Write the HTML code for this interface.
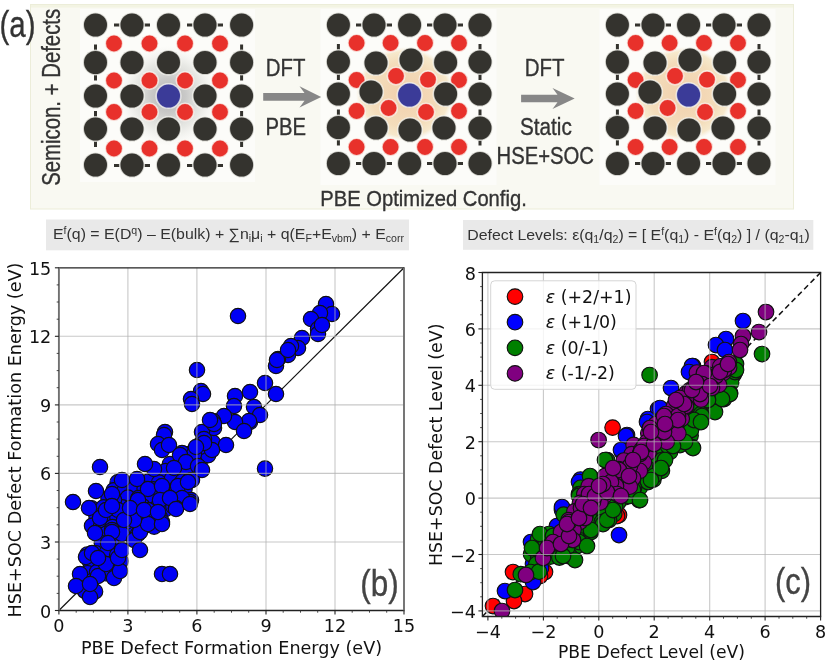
<!DOCTYPE html>
<html><head><meta charset="utf-8"><title>Defect energetics figure</title>
<style>html,body{margin:0;padding:0;background:#fff;} svg{display:block;}</style></head>
<body>
<svg width="825" height="661" viewBox="0 0 825 661">
<defs>
<radialGradient id="gglow"><stop offset="0" stop-color="#9a9a9a" stop-opacity="0.75"/><stop offset="0.35" stop-color="#a8a8a8" stop-opacity="0.6"/><stop offset="0.7" stop-color="#c4c6c0" stop-opacity="0.35"/><stop offset="1" stop-color="#e0e0dc" stop-opacity="0"/></radialGradient>
<radialGradient id="oglow"><stop offset="0" stop-color="#f1cfac" stop-opacity="1"/><stop offset="0.7" stop-color="#f3dbb8" stop-opacity="0.95"/><stop offset="0.9" stop-color="#f5e5c4" stop-opacity="0.85"/><stop offset="1" stop-color="#f6ecd6" stop-opacity="0"/></radialGradient>
</defs>
<rect width="825" height="661" fill="#fff"/>
<rect x="30.5" y="4.5" width="763" height="204.5" fill="#f9f9f2" stroke="#ecedd9" stroke-width="1"/>
<rect x="31" y="5" width="762" height="2.6" fill="#f3f4e3"/>
<rect x="80" y="9" width="175" height="173" fill="#fcfcf9"/>
<rect x="320.5" y="9" width="176" height="176" fill="#fcfcf9"/>
<rect x="599.5" y="9" width="176" height="176" fill="#fcfcf9"/>
<line x1="114" y1="25" x2="150" y2="25" stroke="#34332e" stroke-width="3"/>
<line x1="114" y1="165.5" x2="150" y2="165.5" stroke="#34332e" stroke-width="3"/>
<line x1="187" y1="25" x2="223" y2="25" stroke="#34332e" stroke-width="3"/>
<line x1="187" y1="165.5" x2="223" y2="165.5" stroke="#34332e" stroke-width="3"/>
<line x1="95.5" y1="44.5" x2="95.5" y2="80.5" stroke="#34332e" stroke-width="3"/>
<line x1="241.6" y1="44.5" x2="241.6" y2="80.5" stroke="#34332e" stroke-width="3"/>
<line x1="95.5" y1="111" x2="95.5" y2="147" stroke="#34332e" stroke-width="3"/>
<line x1="241.6" y1="111" x2="241.6" y2="147" stroke="#34332e" stroke-width="3"/>
<circle cx="168.5" cy="96" r="50" fill="url(#gglow)"/>
<circle cx="114" cy="43.5" r="8.7" fill="#e8312b" stroke="#fbfbf6" stroke-opacity="0.75" stroke-width="1.6"/>
<circle cx="149.5" cy="43.5" r="8.7" fill="#e8312b" stroke="#fbfbf6" stroke-opacity="0.75" stroke-width="1.6"/>
<circle cx="185" cy="43.5" r="8.7" fill="#e8312b" stroke="#fbfbf6" stroke-opacity="0.75" stroke-width="1.6"/>
<circle cx="220" cy="43.5" r="8.7" fill="#e8312b" stroke="#fbfbf6" stroke-opacity="0.75" stroke-width="1.6"/>
<circle cx="114" cy="80.5" r="8.7" fill="#e8312b" stroke="#fbfbf6" stroke-opacity="0.75" stroke-width="1.6"/>
<circle cx="149.5" cy="80.5" r="8.7" fill="#e8312b" stroke="#fbfbf6" stroke-opacity="0.75" stroke-width="1.6"/>
<circle cx="185" cy="80.5" r="8.7" fill="#e8312b" stroke="#fbfbf6" stroke-opacity="0.75" stroke-width="1.6"/>
<circle cx="220" cy="80.5" r="8.7" fill="#e8312b" stroke="#fbfbf6" stroke-opacity="0.75" stroke-width="1.6"/>
<circle cx="114" cy="112" r="8.7" fill="#e8312b" stroke="#fbfbf6" stroke-opacity="0.75" stroke-width="1.6"/>
<circle cx="149.5" cy="112" r="8.7" fill="#e8312b" stroke="#fbfbf6" stroke-opacity="0.75" stroke-width="1.6"/>
<circle cx="185" cy="112" r="8.7" fill="#e8312b" stroke="#fbfbf6" stroke-opacity="0.75" stroke-width="1.6"/>
<circle cx="220" cy="112" r="8.7" fill="#e8312b" stroke="#fbfbf6" stroke-opacity="0.75" stroke-width="1.6"/>
<circle cx="114" cy="148.5" r="8.7" fill="#e8312b" stroke="#fbfbf6" stroke-opacity="0.75" stroke-width="1.6"/>
<circle cx="149.5" cy="148.5" r="8.7" fill="#e8312b" stroke="#fbfbf6" stroke-opacity="0.75" stroke-width="1.6"/>
<circle cx="185" cy="148.5" r="8.7" fill="#e8312b" stroke="#fbfbf6" stroke-opacity="0.75" stroke-width="1.6"/>
<circle cx="220" cy="148.5" r="8.7" fill="#e8312b" stroke="#fbfbf6" stroke-opacity="0.75" stroke-width="1.6"/>
<circle cx="95.5" cy="25" r="12.3" fill="#34332e" stroke="#fbfbf6" stroke-opacity="0.75" stroke-width="1.6"/>
<circle cx="132" cy="25" r="12.3" fill="#34332e" stroke="#fbfbf6" stroke-opacity="0.75" stroke-width="1.6"/>
<circle cx="168.5" cy="25" r="12.3" fill="#34332e" stroke="#fbfbf6" stroke-opacity="0.75" stroke-width="1.6"/>
<circle cx="205" cy="25" r="12.3" fill="#34332e" stroke="#fbfbf6" stroke-opacity="0.75" stroke-width="1.6"/>
<circle cx="241.6" cy="25" r="12.3" fill="#34332e" stroke="#fbfbf6" stroke-opacity="0.75" stroke-width="1.6"/>
<circle cx="95.5" cy="62.5" r="12.3" fill="#34332e" stroke="#fbfbf6" stroke-opacity="0.75" stroke-width="1.6"/>
<circle cx="132" cy="62.5" r="12.3" fill="#34332e" stroke="#fbfbf6" stroke-opacity="0.75" stroke-width="1.6"/>
<circle cx="168.5" cy="62.5" r="12.3" fill="#34332e" stroke="#fbfbf6" stroke-opacity="0.75" stroke-width="1.6"/>
<circle cx="205" cy="62.5" r="12.3" fill="#34332e" stroke="#fbfbf6" stroke-opacity="0.75" stroke-width="1.6"/>
<circle cx="241.6" cy="62.5" r="12.3" fill="#34332e" stroke="#fbfbf6" stroke-opacity="0.75" stroke-width="1.6"/>
<circle cx="95.5" cy="96" r="12.3" fill="#34332e" stroke="#fbfbf6" stroke-opacity="0.75" stroke-width="1.6"/>
<circle cx="132" cy="96" r="12.3" fill="#34332e" stroke="#fbfbf6" stroke-opacity="0.75" stroke-width="1.6"/>
<circle cx="205" cy="96" r="12.3" fill="#34332e" stroke="#fbfbf6" stroke-opacity="0.75" stroke-width="1.6"/>
<circle cx="241.6" cy="96" r="12.3" fill="#34332e" stroke="#fbfbf6" stroke-opacity="0.75" stroke-width="1.6"/>
<circle cx="95.5" cy="129" r="12.3" fill="#34332e" stroke="#fbfbf6" stroke-opacity="0.75" stroke-width="1.6"/>
<circle cx="132" cy="129" r="12.3" fill="#34332e" stroke="#fbfbf6" stroke-opacity="0.75" stroke-width="1.6"/>
<circle cx="168.5" cy="129" r="12.3" fill="#34332e" stroke="#fbfbf6" stroke-opacity="0.75" stroke-width="1.6"/>
<circle cx="205" cy="129" r="12.3" fill="#34332e" stroke="#fbfbf6" stroke-opacity="0.75" stroke-width="1.6"/>
<circle cx="241.6" cy="129" r="12.3" fill="#34332e" stroke="#fbfbf6" stroke-opacity="0.75" stroke-width="1.6"/>
<circle cx="95.5" cy="165" r="12.3" fill="#34332e" stroke="#fbfbf6" stroke-opacity="0.75" stroke-width="1.6"/>
<circle cx="132" cy="165" r="12.3" fill="#34332e" stroke="#fbfbf6" stroke-opacity="0.75" stroke-width="1.6"/>
<circle cx="168.5" cy="165" r="12.3" fill="#34332e" stroke="#fbfbf6" stroke-opacity="0.75" stroke-width="1.6"/>
<circle cx="205" cy="165" r="12.3" fill="#34332e" stroke="#fbfbf6" stroke-opacity="0.75" stroke-width="1.6"/>
<circle cx="241.6" cy="165" r="12.3" fill="#34332e" stroke="#fbfbf6" stroke-opacity="0.75" stroke-width="1.6"/>
<circle cx="168.5" cy="96" r="12.3" fill="#3b3b98" stroke="#fbfbf6" stroke-opacity="0.75" stroke-width="1.6"/>
<line x1="356" y1="25" x2="392" y2="25" stroke="#34332e" stroke-width="3"/>
<line x1="356" y1="163.5" x2="392" y2="163.5" stroke="#34332e" stroke-width="3"/>
<line x1="427" y1="25" x2="463" y2="25" stroke="#34332e" stroke-width="3"/>
<line x1="427" y1="163.5" x2="463" y2="163.5" stroke="#34332e" stroke-width="3"/>
<line x1="338.4" y1="44" x2="338.4" y2="80" stroke="#34332e" stroke-width="3"/>
<line x1="480" y1="44" x2="480" y2="80" stroke="#34332e" stroke-width="3"/>
<line x1="338.4" y1="109.5" x2="338.4" y2="145.5" stroke="#34332e" stroke-width="3"/>
<line x1="480" y1="109.5" x2="480" y2="145.5" stroke="#34332e" stroke-width="3"/>
<ellipse cx="405" cy="94" rx="49" ry="47" fill="url(#oglow)"/>
<circle cx="356.6" cy="43" r="8.7" fill="#e8312b" stroke="#fbfbf6" stroke-opacity="0.75" stroke-width="1.6"/>
<circle cx="390.6" cy="43" r="8.7" fill="#e8312b" stroke="#fbfbf6" stroke-opacity="0.75" stroke-width="1.6"/>
<circle cx="425" cy="43" r="8.7" fill="#e8312b" stroke="#fbfbf6" stroke-opacity="0.75" stroke-width="1.6"/>
<circle cx="459" cy="43" r="8.7" fill="#e8312b" stroke="#fbfbf6" stroke-opacity="0.75" stroke-width="1.6"/>
<circle cx="356.6" cy="80" r="8.7" fill="#e8312b" stroke="#fbfbf6" stroke-opacity="0.75" stroke-width="1.6"/>
<circle cx="396" cy="76" r="8.7" fill="#e8312b" stroke="#fbfbf6" stroke-opacity="0.75" stroke-width="1.6"/>
<circle cx="428" cy="79.6" r="8.7" fill="#e8312b" stroke="#fbfbf6" stroke-opacity="0.75" stroke-width="1.6"/>
<circle cx="459" cy="80" r="8.7" fill="#e8312b" stroke="#fbfbf6" stroke-opacity="0.75" stroke-width="1.6"/>
<circle cx="356.6" cy="111" r="8.7" fill="#e8312b" stroke="#fbfbf6" stroke-opacity="0.75" stroke-width="1.6"/>
<circle cx="388.6" cy="108" r="8.7" fill="#e8312b" stroke="#fbfbf6" stroke-opacity="0.75" stroke-width="1.6"/>
<circle cx="426" cy="112" r="8.7" fill="#e8312b" stroke="#fbfbf6" stroke-opacity="0.75" stroke-width="1.6"/>
<circle cx="459" cy="111" r="8.7" fill="#e8312b" stroke="#fbfbf6" stroke-opacity="0.75" stroke-width="1.6"/>
<circle cx="356.6" cy="147" r="8.7" fill="#e8312b" stroke="#fbfbf6" stroke-opacity="0.75" stroke-width="1.6"/>
<circle cx="390.6" cy="147" r="8.7" fill="#e8312b" stroke="#fbfbf6" stroke-opacity="0.75" stroke-width="1.6"/>
<circle cx="425" cy="147" r="8.7" fill="#e8312b" stroke="#fbfbf6" stroke-opacity="0.75" stroke-width="1.6"/>
<circle cx="459" cy="147" r="8.7" fill="#e8312b" stroke="#fbfbf6" stroke-opacity="0.75" stroke-width="1.6"/>
<circle cx="338.4" cy="25" r="12.3" fill="#34332e" stroke="#fbfbf6" stroke-opacity="0.75" stroke-width="1.6"/>
<circle cx="374" cy="25" r="12.3" fill="#34332e" stroke="#fbfbf6" stroke-opacity="0.75" stroke-width="1.6"/>
<circle cx="409.6" cy="25" r="12.3" fill="#34332e" stroke="#fbfbf6" stroke-opacity="0.75" stroke-width="1.6"/>
<circle cx="445" cy="25" r="12.3" fill="#34332e" stroke="#fbfbf6" stroke-opacity="0.75" stroke-width="1.6"/>
<circle cx="480" cy="25" r="12.3" fill="#34332e" stroke="#fbfbf6" stroke-opacity="0.75" stroke-width="1.6"/>
<circle cx="338.4" cy="62" r="12.3" fill="#34332e" stroke="#fbfbf6" stroke-opacity="0.75" stroke-width="1.6"/>
<circle cx="376" cy="63" r="12.3" fill="#34332e" stroke="#fbfbf6" stroke-opacity="0.75" stroke-width="1.6"/>
<circle cx="411" cy="60" r="12.3" fill="#34332e" stroke="#fbfbf6" stroke-opacity="0.75" stroke-width="1.6"/>
<circle cx="445.6" cy="62.4" r="12.3" fill="#34332e" stroke="#fbfbf6" stroke-opacity="0.75" stroke-width="1.6"/>
<circle cx="480" cy="62" r="12.3" fill="#34332e" stroke="#fbfbf6" stroke-opacity="0.75" stroke-width="1.6"/>
<circle cx="338.4" cy="94" r="12.3" fill="#34332e" stroke="#fbfbf6" stroke-opacity="0.75" stroke-width="1.6"/>
<circle cx="371" cy="92" r="12.3" fill="#34332e" stroke="#fbfbf6" stroke-opacity="0.75" stroke-width="1.6"/>
<circle cx="445.6" cy="94" r="12.3" fill="#34332e" stroke="#fbfbf6" stroke-opacity="0.75" stroke-width="1.6"/>
<circle cx="480" cy="94" r="12.3" fill="#34332e" stroke="#fbfbf6" stroke-opacity="0.75" stroke-width="1.6"/>
<circle cx="338.4" cy="127.5" r="12.3" fill="#34332e" stroke="#fbfbf6" stroke-opacity="0.75" stroke-width="1.6"/>
<circle cx="376" cy="128" r="12.3" fill="#34332e" stroke="#fbfbf6" stroke-opacity="0.75" stroke-width="1.6"/>
<circle cx="410" cy="130" r="12.3" fill="#34332e" stroke="#fbfbf6" stroke-opacity="0.75" stroke-width="1.6"/>
<circle cx="444" cy="128" r="12.3" fill="#34332e" stroke="#fbfbf6" stroke-opacity="0.75" stroke-width="1.6"/>
<circle cx="480" cy="128" r="12.3" fill="#34332e" stroke="#fbfbf6" stroke-opacity="0.75" stroke-width="1.6"/>
<circle cx="338.4" cy="163.5" r="12.3" fill="#34332e" stroke="#fbfbf6" stroke-opacity="0.75" stroke-width="1.6"/>
<circle cx="374" cy="163.5" r="12.3" fill="#34332e" stroke="#fbfbf6" stroke-opacity="0.75" stroke-width="1.6"/>
<circle cx="409.6" cy="163.5" r="12.3" fill="#34332e" stroke="#fbfbf6" stroke-opacity="0.75" stroke-width="1.6"/>
<circle cx="445" cy="163.5" r="12.3" fill="#34332e" stroke="#fbfbf6" stroke-opacity="0.75" stroke-width="1.6"/>
<circle cx="480" cy="163.5" r="12.3" fill="#34332e" stroke="#fbfbf6" stroke-opacity="0.75" stroke-width="1.6"/>
<circle cx="409.6" cy="95" r="12.3" fill="#3b3b98" stroke="#fbfbf6" stroke-opacity="0.75" stroke-width="1.6"/>
<line x1="635" y1="25" x2="671" y2="25" stroke="#34332e" stroke-width="3"/>
<line x1="635" y1="163.5" x2="671" y2="163.5" stroke="#34332e" stroke-width="3"/>
<line x1="706" y1="25" x2="742" y2="25" stroke="#34332e" stroke-width="3"/>
<line x1="706" y1="163.5" x2="742" y2="163.5" stroke="#34332e" stroke-width="3"/>
<line x1="617.4" y1="44" x2="617.4" y2="80" stroke="#34332e" stroke-width="3"/>
<line x1="759" y1="44" x2="759" y2="80" stroke="#34332e" stroke-width="3"/>
<line x1="617.4" y1="109.5" x2="617.4" y2="145.5" stroke="#34332e" stroke-width="3"/>
<line x1="759" y1="109.5" x2="759" y2="145.5" stroke="#34332e" stroke-width="3"/>
<ellipse cx="684" cy="94" rx="49" ry="47" fill="url(#oglow)"/>
<circle cx="635.6" cy="43" r="8.7" fill="#e8312b" stroke="#fbfbf6" stroke-opacity="0.75" stroke-width="1.6"/>
<circle cx="669.6" cy="43" r="8.7" fill="#e8312b" stroke="#fbfbf6" stroke-opacity="0.75" stroke-width="1.6"/>
<circle cx="704" cy="43" r="8.7" fill="#e8312b" stroke="#fbfbf6" stroke-opacity="0.75" stroke-width="1.6"/>
<circle cx="738" cy="43" r="8.7" fill="#e8312b" stroke="#fbfbf6" stroke-opacity="0.75" stroke-width="1.6"/>
<circle cx="635.6" cy="80" r="8.7" fill="#e8312b" stroke="#fbfbf6" stroke-opacity="0.75" stroke-width="1.6"/>
<circle cx="675" cy="76" r="8.7" fill="#e8312b" stroke="#fbfbf6" stroke-opacity="0.75" stroke-width="1.6"/>
<circle cx="707" cy="79.6" r="8.7" fill="#e8312b" stroke="#fbfbf6" stroke-opacity="0.75" stroke-width="1.6"/>
<circle cx="738" cy="80" r="8.7" fill="#e8312b" stroke="#fbfbf6" stroke-opacity="0.75" stroke-width="1.6"/>
<circle cx="635.6" cy="111" r="8.7" fill="#e8312b" stroke="#fbfbf6" stroke-opacity="0.75" stroke-width="1.6"/>
<circle cx="667.6" cy="108" r="8.7" fill="#e8312b" stroke="#fbfbf6" stroke-opacity="0.75" stroke-width="1.6"/>
<circle cx="705" cy="112" r="8.7" fill="#e8312b" stroke="#fbfbf6" stroke-opacity="0.75" stroke-width="1.6"/>
<circle cx="738" cy="111" r="8.7" fill="#e8312b" stroke="#fbfbf6" stroke-opacity="0.75" stroke-width="1.6"/>
<circle cx="635.6" cy="147" r="8.7" fill="#e8312b" stroke="#fbfbf6" stroke-opacity="0.75" stroke-width="1.6"/>
<circle cx="669.6" cy="147" r="8.7" fill="#e8312b" stroke="#fbfbf6" stroke-opacity="0.75" stroke-width="1.6"/>
<circle cx="704" cy="147" r="8.7" fill="#e8312b" stroke="#fbfbf6" stroke-opacity="0.75" stroke-width="1.6"/>
<circle cx="738" cy="147" r="8.7" fill="#e8312b" stroke="#fbfbf6" stroke-opacity="0.75" stroke-width="1.6"/>
<circle cx="617.4" cy="25" r="12.3" fill="#34332e" stroke="#fbfbf6" stroke-opacity="0.75" stroke-width="1.6"/>
<circle cx="653" cy="25" r="12.3" fill="#34332e" stroke="#fbfbf6" stroke-opacity="0.75" stroke-width="1.6"/>
<circle cx="688.6" cy="25" r="12.3" fill="#34332e" stroke="#fbfbf6" stroke-opacity="0.75" stroke-width="1.6"/>
<circle cx="724" cy="25" r="12.3" fill="#34332e" stroke="#fbfbf6" stroke-opacity="0.75" stroke-width="1.6"/>
<circle cx="759" cy="25" r="12.3" fill="#34332e" stroke="#fbfbf6" stroke-opacity="0.75" stroke-width="1.6"/>
<circle cx="617.4" cy="62" r="12.3" fill="#34332e" stroke="#fbfbf6" stroke-opacity="0.75" stroke-width="1.6"/>
<circle cx="655" cy="63" r="12.3" fill="#34332e" stroke="#fbfbf6" stroke-opacity="0.75" stroke-width="1.6"/>
<circle cx="690" cy="60" r="12.3" fill="#34332e" stroke="#fbfbf6" stroke-opacity="0.75" stroke-width="1.6"/>
<circle cx="724.6" cy="62.4" r="12.3" fill="#34332e" stroke="#fbfbf6" stroke-opacity="0.75" stroke-width="1.6"/>
<circle cx="759" cy="62" r="12.3" fill="#34332e" stroke="#fbfbf6" stroke-opacity="0.75" stroke-width="1.6"/>
<circle cx="617.4" cy="94" r="12.3" fill="#34332e" stroke="#fbfbf6" stroke-opacity="0.75" stroke-width="1.6"/>
<circle cx="650" cy="92" r="12.3" fill="#34332e" stroke="#fbfbf6" stroke-opacity="0.75" stroke-width="1.6"/>
<circle cx="724.6" cy="94" r="12.3" fill="#34332e" stroke="#fbfbf6" stroke-opacity="0.75" stroke-width="1.6"/>
<circle cx="759" cy="94" r="12.3" fill="#34332e" stroke="#fbfbf6" stroke-opacity="0.75" stroke-width="1.6"/>
<circle cx="617.4" cy="127.5" r="12.3" fill="#34332e" stroke="#fbfbf6" stroke-opacity="0.75" stroke-width="1.6"/>
<circle cx="655" cy="128" r="12.3" fill="#34332e" stroke="#fbfbf6" stroke-opacity="0.75" stroke-width="1.6"/>
<circle cx="689" cy="130" r="12.3" fill="#34332e" stroke="#fbfbf6" stroke-opacity="0.75" stroke-width="1.6"/>
<circle cx="723" cy="128" r="12.3" fill="#34332e" stroke="#fbfbf6" stroke-opacity="0.75" stroke-width="1.6"/>
<circle cx="759" cy="128" r="12.3" fill="#34332e" stroke="#fbfbf6" stroke-opacity="0.75" stroke-width="1.6"/>
<circle cx="617.4" cy="163.5" r="12.3" fill="#34332e" stroke="#fbfbf6" stroke-opacity="0.75" stroke-width="1.6"/>
<circle cx="653" cy="163.5" r="12.3" fill="#34332e" stroke="#fbfbf6" stroke-opacity="0.75" stroke-width="1.6"/>
<circle cx="688.6" cy="163.5" r="12.3" fill="#34332e" stroke="#fbfbf6" stroke-opacity="0.75" stroke-width="1.6"/>
<circle cx="724" cy="163.5" r="12.3" fill="#34332e" stroke="#fbfbf6" stroke-opacity="0.75" stroke-width="1.6"/>
<circle cx="759" cy="163.5" r="12.3" fill="#34332e" stroke="#fbfbf6" stroke-opacity="0.75" stroke-width="1.6"/>
<circle cx="688.6" cy="95" r="12.3" fill="#3b3b98" stroke="#fbfbf6" stroke-opacity="0.75" stroke-width="1.6"/>
<path d="M263.2,93.10000000000001 L304.5,93.10000000000001 L299.5,86.30000000000001 L321.2,96.9 L299.5,107.5 L304.5,100.7 L263.2,100.7 Z" fill="#878787"/>
<path d="M521.1,94.7 L557.5,94.7 L552.5,87.9 L574.7,98.5 L552.5,109.1 L557.5,102.3 L521.1,102.3 Z" fill="#878787"/>
<text x="265.8" y="75.6" font-family="Liberation Sans, sans-serif" font-size="23" fill="#333333" stroke="#333333" stroke-width="0.35" textLength="39.6" lengthAdjust="spacingAndGlyphs" >DFT</text>
<text x="265.5" y="134.6" font-family="Liberation Sans, sans-serif" font-size="23" fill="#333333" stroke="#333333" stroke-width="0.35" textLength="40.5" lengthAdjust="spacingAndGlyphs" >PBE</text>
<text x="524.8" y="75.6" font-family="Liberation Sans, sans-serif" font-size="23" fill="#333333" stroke="#333333" stroke-width="0.35" textLength="39.8" lengthAdjust="spacingAndGlyphs" >DFT</text>
<text x="520" y="134.8" font-family="Liberation Sans, sans-serif" font-size="23" fill="#333333" stroke="#333333" stroke-width="0.35" textLength="51.8" lengthAdjust="spacingAndGlyphs" >Static</text>
<text x="496.5" y="163.8" font-family="Liberation Sans, sans-serif" font-size="23" fill="#333333" stroke="#333333" stroke-width="0.35" textLength="97.5" lengthAdjust="spacingAndGlyphs" >HSE+SOC</text>
<text x="320.3" y="206" font-family="Liberation Sans, sans-serif" font-size="22.5" fill="#333333" stroke="#333333" stroke-width="0.35" textLength="206.5" lengthAdjust="spacingAndGlyphs" >PBE Optimized Config.</text>
<text x="-0.5" y="37" font-family="Liberation Sans, sans-serif" font-size="37" fill="#333333" stroke="#333333" stroke-width="0.35" textLength="36" lengthAdjust="spacingAndGlyphs" >(a)</text>
<text x="0" y="0" font-family="Liberation Sans, sans-serif" font-size="25" fill="#333333" stroke="#333333" stroke-width="0.35" textLength="177" lengthAdjust="spacingAndGlyphs" transform="translate(60,185.8) rotate(-90)">Semicon. + Defects</text>
<rect x="46" y="219.5" width="363" height="30.8" fill="#e9e9e9"/>
<rect x="463" y="220" width="350.3" height="29.8" fill="#e9e9e9"/>
<defs><clipPath id="clipL"><path d="M0,0 H825 V541 H128.5 V661 H0 Z"/></clipPath><clipPath id="clipB"><rect x="58.9" y="267.8" width="345.1" height="342.7"/></clipPath><clipPath id="clipC"><rect x="482.4" y="272.5" width="338.2" height="344"/></clipPath></defs>
<line x1="58.9" y1="610.5" x2="404.0" y2="267.8" stroke="#111" stroke-width="1.2"/>
<g clip-path="url(#clipB)"><circle cx="201.2" cy="443.3" r="7.7" fill="#0000f5" stroke="#111" stroke-width="1.15"/>
<circle cx="212.8" cy="442.5" r="7.7" fill="#0000f5" stroke="#111" stroke-width="1.15"/>
<circle cx="197.1" cy="453.6" r="7.7" fill="#0000f5" stroke="#111" stroke-width="1.15"/>
<circle cx="208.2" cy="455.2" r="7.7" fill="#0000f5" stroke="#111" stroke-width="1.15"/>
<circle cx="169.9" cy="464.1" r="7.7" fill="#0000f5" stroke="#111" stroke-width="1.15"/>
<circle cx="179.7" cy="463.9" r="7.7" fill="#0000f5" stroke="#111" stroke-width="1.15"/>
<circle cx="190.1" cy="463.6" r="7.7" fill="#0000f5" stroke="#111" stroke-width="1.15"/>
<circle cx="165.6" cy="471.0" r="7.7" fill="#0000f5" stroke="#111" stroke-width="1.15"/>
<circle cx="176.8" cy="471.3" r="7.7" fill="#0000f5" stroke="#111" stroke-width="1.15"/>
<circle cx="185.8" cy="473.3" r="7.7" fill="#0000f5" stroke="#111" stroke-width="1.15"/>
<circle cx="117.6" cy="482.4" r="7.7" fill="#0000f5" stroke="#111" stroke-width="1.15"/>
<circle cx="137.6" cy="482.5" r="7.7" fill="#0000f5" stroke="#111" stroke-width="1.15"/>
<circle cx="148.3" cy="481.6" r="7.7" fill="#0000f5" stroke="#111" stroke-width="1.15"/>
<circle cx="159.1" cy="482.6" r="7.7" fill="#0000f5" stroke="#111" stroke-width="1.15"/>
<circle cx="171.8" cy="479.0" r="7.7" fill="#0000f5" stroke="#111" stroke-width="1.15"/>
<circle cx="182.5" cy="481.3" r="7.7" fill="#0000f5" stroke="#111" stroke-width="1.15"/>
<circle cx="189.3" cy="480.8" r="7.7" fill="#0000f5" stroke="#111" stroke-width="1.15"/>
<circle cx="113.7" cy="490.3" r="7.7" fill="#0000f5" stroke="#111" stroke-width="1.15"/>
<circle cx="124.3" cy="491.1" r="7.7" fill="#0000f5" stroke="#111" stroke-width="1.15"/>
<circle cx="134.7" cy="488.2" r="7.7" fill="#0000f5" stroke="#111" stroke-width="1.15"/>
<circle cx="144.6" cy="488.7" r="7.7" fill="#0000f5" stroke="#111" stroke-width="1.15"/>
<circle cx="153.3" cy="489.3" r="7.7" fill="#0000f5" stroke="#111" stroke-width="1.15"/>
<circle cx="165.1" cy="490.5" r="7.7" fill="#0000f5" stroke="#111" stroke-width="1.15"/>
<circle cx="177.0" cy="488.0" r="7.7" fill="#0000f5" stroke="#111" stroke-width="1.15"/>
<circle cx="184.5" cy="489.4" r="7.7" fill="#0000f5" stroke="#111" stroke-width="1.15"/>
<circle cx="108.5" cy="498.3" r="7.7" fill="#0000f5" stroke="#111" stroke-width="1.15"/>
<circle cx="116.0" cy="500.6" r="7.7" fill="#0000f5" stroke="#111" stroke-width="1.15"/>
<circle cx="127.9" cy="497.5" r="7.7" fill="#0000f5" stroke="#111" stroke-width="1.15"/>
<circle cx="138.5" cy="498.0" r="7.7" fill="#0000f5" stroke="#111" stroke-width="1.15"/>
<circle cx="148.6" cy="499.6" r="7.7" fill="#0000f5" stroke="#111" stroke-width="1.15"/>
<circle cx="161.2" cy="500.2" r="7.7" fill="#0000f5" stroke="#111" stroke-width="1.15"/>
<circle cx="168.6" cy="499.0" r="7.7" fill="#0000f5" stroke="#111" stroke-width="1.15"/>
<circle cx="180.5" cy="501.0" r="7.7" fill="#0000f5" stroke="#111" stroke-width="1.15"/>
<circle cx="91.5" cy="508.2" r="7.7" fill="#0000f5" stroke="#111" stroke-width="1.15"/>
<circle cx="103.5" cy="507.3" r="7.7" fill="#0000f5" stroke="#111" stroke-width="1.15"/>
<circle cx="114.2" cy="509.8" r="7.7" fill="#0000f5" stroke="#111" stroke-width="1.15"/>
<circle cx="122.2" cy="507.4" r="7.7" fill="#0000f5" stroke="#111" stroke-width="1.15"/>
<circle cx="131.8" cy="509.8" r="7.7" fill="#0000f5" stroke="#111" stroke-width="1.15"/>
<circle cx="142.5" cy="506.2" r="7.7" fill="#0000f5" stroke="#111" stroke-width="1.15"/>
<circle cx="155.8" cy="508.5" r="7.7" fill="#0000f5" stroke="#111" stroke-width="1.15"/>
<circle cx="165.4" cy="509.1" r="7.7" fill="#0000f5" stroke="#111" stroke-width="1.15"/>
<circle cx="173.4" cy="506.5" r="7.7" fill="#0000f5" stroke="#111" stroke-width="1.15"/>
<circle cx="96.5" cy="516.4" r="7.7" fill="#0000f5" stroke="#111" stroke-width="1.15"/>
<circle cx="106.0" cy="515.8" r="7.7" fill="#0000f5" stroke="#111" stroke-width="1.15"/>
<circle cx="117.3" cy="516.4" r="7.7" fill="#0000f5" stroke="#111" stroke-width="1.15"/>
<circle cx="129.3" cy="518.6" r="7.7" fill="#0000f5" stroke="#111" stroke-width="1.15"/>
<circle cx="137.9" cy="517.7" r="7.7" fill="#0000f5" stroke="#111" stroke-width="1.15"/>
<circle cx="150.6" cy="516.7" r="7.7" fill="#0000f5" stroke="#111" stroke-width="1.15"/>
<circle cx="159.7" cy="517.0" r="7.7" fill="#0000f5" stroke="#111" stroke-width="1.15"/>
<circle cx="92.0" cy="525.8" r="7.7" fill="#0000f5" stroke="#111" stroke-width="1.15"/>
<circle cx="101.0" cy="526.3" r="7.7" fill="#0000f5" stroke="#111" stroke-width="1.15"/>
<circle cx="112.4" cy="527.1" r="7.7" fill="#0000f5" stroke="#111" stroke-width="1.15"/>
<circle cx="123.3" cy="527.0" r="7.7" fill="#0000f5" stroke="#111" stroke-width="1.15"/>
<circle cx="132.8" cy="527.0" r="7.7" fill="#0000f5" stroke="#111" stroke-width="1.15"/>
<circle cx="143.1" cy="526.8" r="7.7" fill="#0000f5" stroke="#111" stroke-width="1.15"/>
<circle cx="154.1" cy="526.6" r="7.7" fill="#0000f5" stroke="#111" stroke-width="1.15"/>
<circle cx="98.2" cy="534.6" r="7.7" fill="#0000f5" stroke="#111" stroke-width="1.15"/>
<circle cx="106.6" cy="533.5" r="7.7" fill="#0000f5" stroke="#111" stroke-width="1.15"/>
<circle cx="118.3" cy="535.2" r="7.7" fill="#0000f5" stroke="#111" stroke-width="1.15"/>
<circle cx="101.8" cy="543.3" r="7.7" fill="#0000f5" stroke="#111" stroke-width="1.15" clip-path="url(#clipL)"/>
<circle cx="111.5" cy="543.7" r="7.7" fill="#0000f5" stroke="#111" stroke-width="1.15" clip-path="url(#clipL)"/>
<circle cx="87.4" cy="554.4" r="7.7" fill="#0000f5" stroke="#111" stroke-width="1.15" clip-path="url(#clipL)"/>
<circle cx="95.8" cy="553.2" r="7.7" fill="#0000f5" stroke="#111" stroke-width="1.15" clip-path="url(#clipL)"/>
<circle cx="106.8" cy="552.8" r="7.7" fill="#0000f5" stroke="#111" stroke-width="1.15" clip-path="url(#clipL)"/>
<circle cx="117.2" cy="554.7" r="7.7" fill="#0000f5" stroke="#111" stroke-width="1.15" clip-path="url(#clipL)"/>
<circle cx="90.0" cy="561.5" r="7.7" fill="#0000f5" stroke="#111" stroke-width="1.15" clip-path="url(#clipL)"/>
<circle cx="101.4" cy="562.0" r="7.7" fill="#0000f5" stroke="#111" stroke-width="1.15" clip-path="url(#clipL)"/>
<circle cx="111.7" cy="564.0" r="7.7" fill="#0000f5" stroke="#111" stroke-width="1.15" clip-path="url(#clipL)"/>
<circle cx="120.8" cy="561.1" r="7.7" fill="#0000f5" stroke="#111" stroke-width="1.15" clip-path="url(#clipL)"/>
<circle cx="87.6" cy="573.2" r="7.7" fill="#0000f5" stroke="#111" stroke-width="1.15" clip-path="url(#clipL)"/>
<circle cx="97.0" cy="572.0" r="7.7" fill="#0000f5" stroke="#111" stroke-width="1.15" clip-path="url(#clipL)"/>
<circle cx="105.9" cy="573.3" r="7.7" fill="#0000f5" stroke="#111" stroke-width="1.15" clip-path="url(#clipL)"/>
<circle cx="80.9" cy="581.6" r="7.7" fill="#0000f5" stroke="#111" stroke-width="1.15" clip-path="url(#clipL)"/>
<circle cx="90.2" cy="581.7" r="7.7" fill="#0000f5" stroke="#111" stroke-width="1.15" clip-path="url(#clipL)"/>
<circle cx="84.8" cy="590.8" r="7.7" fill="#0000f5" stroke="#111" stroke-width="1.15" clip-path="url(#clipL)"/>
<circle cx="95.1" cy="591.5" r="7.7" fill="#0000f5" stroke="#111" stroke-width="1.15" clip-path="url(#clipL)"/>
<circle cx="326" cy="304" r="7.7" fill="#0000f5" stroke="#111" stroke-width="1.15"/>
<circle cx="332" cy="314" r="7.7" fill="#0000f5" stroke="#111" stroke-width="1.15"/>
<circle cx="320" cy="313" r="7.7" fill="#0000f5" stroke="#111" stroke-width="1.15"/>
<circle cx="311" cy="319" r="7.7" fill="#0000f5" stroke="#111" stroke-width="1.15"/>
<circle cx="318" cy="329" r="7.7" fill="#0000f5" stroke="#111" stroke-width="1.15"/>
<circle cx="318" cy="334" r="7.7" fill="#0000f5" stroke="#111" stroke-width="1.15"/>
<circle cx="322" cy="325" r="7.7" fill="#0000f5" stroke="#111" stroke-width="1.15"/>
<circle cx="302" cy="338" r="7.7" fill="#0000f5" stroke="#111" stroke-width="1.15"/>
<circle cx="298" cy="348" r="7.7" fill="#0000f5" stroke="#111" stroke-width="1.15"/>
<circle cx="291" cy="346" r="7.7" fill="#0000f5" stroke="#111" stroke-width="1.15"/>
<circle cx="288" cy="355" r="7.7" fill="#0000f5" stroke="#111" stroke-width="1.15"/>
<circle cx="278" cy="359" r="7.7" fill="#0000f5" stroke="#111" stroke-width="1.15"/>
<circle cx="276" cy="366" r="7.7" fill="#0000f5" stroke="#111" stroke-width="1.15"/>
<circle cx="265" cy="383" r="7.7" fill="#0000f5" stroke="#111" stroke-width="1.15"/>
<circle cx="250" cy="392" r="7.7" fill="#0000f5" stroke="#111" stroke-width="1.15"/>
<circle cx="276" cy="394" r="7.7" fill="#0000f5" stroke="#111" stroke-width="1.15"/>
<circle cx="238" cy="316" r="7.7" fill="#0000f5" stroke="#111" stroke-width="1.15"/>
<circle cx="277" cy="360" r="7.7" fill="#0000f5" stroke="#111" stroke-width="1.15"/>
<circle cx="288" cy="350" r="7.7" fill="#0000f5" stroke="#111" stroke-width="1.15"/>
<circle cx="250" cy="422" r="7.7" fill="#0000f5" stroke="#111" stroke-width="1.15"/>
<circle cx="197" cy="370" r="7.7" fill="#0000f5" stroke="#111" stroke-width="1.15"/>
<circle cx="201" cy="391" r="7.7" fill="#0000f5" stroke="#111" stroke-width="1.15"/>
<circle cx="203" cy="394" r="7.7" fill="#0000f5" stroke="#111" stroke-width="1.15"/>
<circle cx="191" cy="399" r="7.7" fill="#0000f5" stroke="#111" stroke-width="1.15"/>
<circle cx="192" cy="404" r="7.7" fill="#0000f5" stroke="#111" stroke-width="1.15"/>
<circle cx="235" cy="396" r="7.7" fill="#0000f5" stroke="#111" stroke-width="1.15"/>
<circle cx="234" cy="406" r="7.7" fill="#0000f5" stroke="#111" stroke-width="1.15"/>
<circle cx="254" cy="407" r="7.7" fill="#0000f5" stroke="#111" stroke-width="1.15"/>
<circle cx="260" cy="415" r="7.7" fill="#0000f5" stroke="#111" stroke-width="1.15"/>
<circle cx="249" cy="421" r="7.7" fill="#0000f5" stroke="#111" stroke-width="1.15"/>
<circle cx="235" cy="422" r="7.7" fill="#0000f5" stroke="#111" stroke-width="1.15"/>
<circle cx="244" cy="431" r="7.7" fill="#0000f5" stroke="#111" stroke-width="1.15"/>
<circle cx="224" cy="416" r="7.7" fill="#0000f5" stroke="#111" stroke-width="1.15"/>
<circle cx="213" cy="421" r="7.7" fill="#0000f5" stroke="#111" stroke-width="1.15"/>
<circle cx="214" cy="428" r="7.7" fill="#0000f5" stroke="#111" stroke-width="1.15"/>
<circle cx="202" cy="432" r="7.7" fill="#0000f5" stroke="#111" stroke-width="1.15"/>
<circle cx="204" cy="439" r="7.7" fill="#0000f5" stroke="#111" stroke-width="1.15"/>
<circle cx="226" cy="445" r="7.7" fill="#0000f5" stroke="#111" stroke-width="1.15"/>
<circle cx="200" cy="447" r="7.7" fill="#0000f5" stroke="#111" stroke-width="1.15"/>
<circle cx="212" cy="450" r="7.7" fill="#0000f5" stroke="#111" stroke-width="1.15"/>
<circle cx="188" cy="454" r="7.7" fill="#0000f5" stroke="#111" stroke-width="1.15"/>
<circle cx="182" cy="453" r="7.7" fill="#0000f5" stroke="#111" stroke-width="1.15"/>
<circle cx="165" cy="432" r="7.7" fill="#0000f5" stroke="#111" stroke-width="1.15"/>
<circle cx="265" cy="468.6" r="7.7" fill="#0000f5" stroke="#111" stroke-width="1.15"/>
<circle cx="214" cy="424" r="7.7" fill="#0000f5" stroke="#111" stroke-width="1.15"/>
<circle cx="194" cy="454" r="7.7" fill="#0000f5" stroke="#111" stroke-width="1.15"/>
<circle cx="200" cy="470" r="7.7" fill="#0000f5" stroke="#111" stroke-width="1.15"/>
<circle cx="192" cy="480" r="7.7" fill="#0000f5" stroke="#111" stroke-width="1.15"/>
<circle cx="191" cy="500" r="7.7" fill="#0000f5" stroke="#111" stroke-width="1.15"/>
<circle cx="210" cy="420" r="7.7" fill="#0000f5" stroke="#111" stroke-width="1.15"/>
<circle cx="204" cy="443" r="7.7" fill="#0000f5" stroke="#111" stroke-width="1.15"/>
<circle cx="196" cy="447" r="7.7" fill="#0000f5" stroke="#111" stroke-width="1.15"/>
<circle cx="164" cy="435" r="7.7" fill="#0000f5" stroke="#111" stroke-width="1.15"/>
<circle cx="158" cy="444" r="7.7" fill="#0000f5" stroke="#111" stroke-width="1.15"/>
<circle cx="162" cy="450" r="7.7" fill="#0000f5" stroke="#111" stroke-width="1.15"/>
<circle cx="169" cy="445" r="7.7" fill="#0000f5" stroke="#111" stroke-width="1.15"/>
<circle cx="180" cy="455" r="7.7" fill="#0000f5" stroke="#111" stroke-width="1.15"/>
<circle cx="186" cy="462" r="7.7" fill="#0000f5" stroke="#111" stroke-width="1.15"/>
<circle cx="198" cy="466" r="7.7" fill="#0000f5" stroke="#111" stroke-width="1.15"/>
<circle cx="202" cy="470" r="7.7" fill="#0000f5" stroke="#111" stroke-width="1.15"/>
<circle cx="174" cy="468" r="7.7" fill="#0000f5" stroke="#111" stroke-width="1.15"/>
<circle cx="154" cy="469" r="7.7" fill="#0000f5" stroke="#111" stroke-width="1.15"/>
<circle cx="145" cy="464" r="7.7" fill="#0000f5" stroke="#111" stroke-width="1.15"/>
<circle cx="100" cy="467" r="7.7" fill="#0000f5" stroke="#111" stroke-width="1.15"/>
<circle cx="122" cy="480" r="7.7" fill="#0000f5" stroke="#111" stroke-width="1.15"/>
<circle cx="137" cy="479" r="7.7" fill="#0000f5" stroke="#111" stroke-width="1.15"/>
<circle cx="148" cy="489" r="7.7" fill="#0000f5" stroke="#111" stroke-width="1.15"/>
<circle cx="162" cy="486" r="7.7" fill="#0000f5" stroke="#111" stroke-width="1.15"/>
<circle cx="178" cy="486" r="7.7" fill="#0000f5" stroke="#111" stroke-width="1.15"/>
<circle cx="188" cy="482" r="7.7" fill="#0000f5" stroke="#111" stroke-width="1.15"/>
<circle cx="190" cy="502" r="7.7" fill="#0000f5" stroke="#111" stroke-width="1.15"/>
<circle cx="182" cy="498" r="7.7" fill="#0000f5" stroke="#111" stroke-width="1.15"/>
<circle cx="176" cy="508" r="7.7" fill="#0000f5" stroke="#111" stroke-width="1.15"/>
<circle cx="160" cy="500" r="7.7" fill="#0000f5" stroke="#111" stroke-width="1.15"/>
<circle cx="138" cy="500" r="7.7" fill="#0000f5" stroke="#111" stroke-width="1.15"/>
<circle cx="148" cy="510" r="7.7" fill="#0000f5" stroke="#111" stroke-width="1.15"/>
<circle cx="162" cy="522" r="7.7" fill="#0000f5" stroke="#111" stroke-width="1.15"/>
<circle cx="142" cy="524" r="7.7" fill="#0000f5" stroke="#111" stroke-width="1.15"/>
<circle cx="134" cy="514" r="7.7" fill="#0000f5" stroke="#111" stroke-width="1.15"/>
<circle cx="114" cy="500" r="7.7" fill="#0000f5" stroke="#111" stroke-width="1.15"/>
<circle cx="112" cy="494" r="7.7" fill="#0000f5" stroke="#111" stroke-width="1.15"/>
<circle cx="96" cy="491" r="7.7" fill="#0000f5" stroke="#111" stroke-width="1.15"/>
<circle cx="73" cy="502" r="7.7" fill="#0000f5" stroke="#111" stroke-width="1.15"/>
<circle cx="89" cy="508" r="7.7" fill="#0000f5" stroke="#111" stroke-width="1.15"/>
<circle cx="100" cy="518" r="7.7" fill="#0000f5" stroke="#111" stroke-width="1.15"/>
<circle cx="112" cy="530" r="7.7" fill="#0000f5" stroke="#111" stroke-width="1.15"/>
<circle cx="95" cy="533" r="7.7" fill="#0000f5" stroke="#111" stroke-width="1.15"/>
<circle cx="126" cy="522" r="7.7" fill="#0000f5" stroke="#111" stroke-width="1.15"/>
<circle cx="122" cy="534" r="7.7" fill="#0000f5" stroke="#111" stroke-width="1.15"/>
<circle cx="138" cy="534" r="7.7" fill="#0000f5" stroke="#111" stroke-width="1.15"/>
<circle cx="134" cy="540" r="7.7" fill="#0000f5" stroke="#111" stroke-width="1.15"/>
<circle cx="150" cy="516" r="7.7" fill="#0000f5" stroke="#111" stroke-width="1.15"/>
<circle cx="170" cy="498" r="7.7" fill="#0000f5" stroke="#111" stroke-width="1.15"/>
<circle cx="118" cy="510" r="7.7" fill="#0000f5" stroke="#111" stroke-width="1.15"/>
<circle cx="106" cy="510" r="7.7" fill="#0000f5" stroke="#111" stroke-width="1.15"/>
<circle cx="112" cy="506" r="7.7" fill="#0000f5" stroke="#111" stroke-width="1.15"/>
<circle cx="112" cy="532" r="7.7" fill="#0000f5" stroke="#111" stroke-width="1.15"/>
<circle cx="108" cy="543" r="7.7" fill="#0000f5" stroke="#111" stroke-width="1.15" clip-path="url(#clipL)"/>
<circle cx="86" cy="557" r="7.7" fill="#0000f5" stroke="#111" stroke-width="1.15" clip-path="url(#clipL)"/>
<circle cx="92" cy="553" r="7.7" fill="#0000f5" stroke="#111" stroke-width="1.15" clip-path="url(#clipL)"/>
<circle cx="80" cy="574" r="7.7" fill="#0000f5" stroke="#111" stroke-width="1.15" clip-path="url(#clipL)"/>
<circle cx="76" cy="586" r="7.7" fill="#0000f5" stroke="#111" stroke-width="1.15" clip-path="url(#clipL)"/>
<circle cx="90" cy="597" r="7.7" fill="#0000f5" stroke="#111" stroke-width="1.15" clip-path="url(#clipL)"/>
<circle cx="98" cy="576" r="7.7" fill="#0000f5" stroke="#111" stroke-width="1.15" clip-path="url(#clipL)"/>
<circle cx="114" cy="578" r="7.7" fill="#0000f5" stroke="#111" stroke-width="1.15" clip-path="url(#clipL)"/>
<circle cx="120" cy="571" r="7.7" fill="#0000f5" stroke="#111" stroke-width="1.15" clip-path="url(#clipL)"/>
<circle cx="106" cy="564" r="7.7" fill="#0000f5" stroke="#111" stroke-width="1.15" clip-path="url(#clipL)"/>
<circle cx="118" cy="558" r="7.7" fill="#0000f5" stroke="#111" stroke-width="1.15" clip-path="url(#clipL)"/>
<circle cx="122" cy="550" r="7.7" fill="#0000f5" stroke="#111" stroke-width="1.15" clip-path="url(#clipL)"/>
<circle cx="98" cy="558" r="7.7" fill="#0000f5" stroke="#111" stroke-width="1.15" clip-path="url(#clipL)"/>
<circle cx="90" cy="584" r="7.7" fill="#0000f5" stroke="#111" stroke-width="1.15" clip-path="url(#clipL)"/>
<circle cx="140" cy="550" r="7.7" fill="#0000f5" stroke="#111" stroke-width="1.15"/>
<circle cx="162" cy="574" r="7.7" fill="#0000f5" stroke="#111" stroke-width="1.15"/>
<circle cx="170" cy="574" r="7.7" fill="#0000f5" stroke="#111" stroke-width="1.15"/>
<circle cx="140" cy="532" r="7.7" fill="#0000f5" stroke="#111" stroke-width="1.15"/>
<circle cx="148" cy="524" r="7.7" fill="#0000f5" stroke="#111" stroke-width="1.15"/>
<circle cx="162" cy="524" r="7.7" fill="#0000f5" stroke="#111" stroke-width="1.15"/>
<circle cx="176" cy="509" r="7.7" fill="#0000f5" stroke="#111" stroke-width="1.15"/>
<circle cx="190" cy="504" r="7.7" fill="#0000f5" stroke="#111" stroke-width="1.15"/>
<circle cx="134" cy="520" r="7.7" fill="#0000f5" stroke="#111" stroke-width="1.15"/>
<circle cx="124" cy="520" r="7.7" fill="#0000f5" stroke="#111" stroke-width="1.15"/>
<circle cx="130" cy="508" r="7.7" fill="#0000f5" stroke="#111" stroke-width="1.15"/>
<circle cx="144" cy="510" r="7.7" fill="#0000f5" stroke="#111" stroke-width="1.15"/>
<circle cx="158" cy="512" r="7.7" fill="#0000f5" stroke="#111" stroke-width="1.15"/></g>
<line x1="127.9" y1="267.8" x2="127.9" y2="610.5" stroke="#b0b0b0" stroke-opacity="0.7" stroke-width="1.1"/>
<line x1="58.9" y1="542.0" x2="404.0" y2="542.0" stroke="#b0b0b0" stroke-opacity="0.7" stroke-width="1.1"/>
<line x1="196.9" y1="267.8" x2="196.9" y2="610.5" stroke="#b0b0b0" stroke-opacity="0.7" stroke-width="1.1"/>
<line x1="58.9" y1="473.4" x2="404.0" y2="473.4" stroke="#b0b0b0" stroke-opacity="0.7" stroke-width="1.1"/>
<line x1="266.0" y1="267.8" x2="266.0" y2="610.5" stroke="#b0b0b0" stroke-opacity="0.7" stroke-width="1.1"/>
<line x1="58.9" y1="404.9" x2="404.0" y2="404.9" stroke="#b0b0b0" stroke-opacity="0.7" stroke-width="1.1"/>
<line x1="335.0" y1="267.8" x2="335.0" y2="610.5" stroke="#b0b0b0" stroke-opacity="0.7" stroke-width="1.1"/>
<line x1="58.9" y1="336.3" x2="404.0" y2="336.3" stroke="#b0b0b0" stroke-opacity="0.7" stroke-width="1.1"/>
<line x1="58.3" y1="267.8" x2="404.6" y2="267.8" stroke="#222" stroke-width="1.3"/>
<line x1="58.3" y1="610.5" x2="404.6" y2="610.5" stroke="#222" stroke-width="1.3"/>
<line x1="58.9" y1="267.8" x2="58.9" y2="610.5" stroke="#707070" stroke-width="1.9"/>
<line x1="404.0" y1="267.8" x2="404.0" y2="610.5" stroke="#707070" stroke-width="1.9"/>
<line x1="58.9" y1="610.5" x2="58.9" y2="614.5" stroke="#222" stroke-width="1.1"/>
<text x="58.9" y="631.8" font-family="DejaVu Sans, sans-serif" font-size="17.6" fill="#111" text-anchor="middle">0</text>
<line x1="54.9" y1="610.5" x2="58.9" y2="610.5" stroke="#222" stroke-width="1.1"/>
<text x="51.3" y="617.5" font-family="DejaVu Sans, sans-serif" font-size="17.6" fill="#111" text-anchor="end">0</text>
<line x1="127.9" y1="610.5" x2="127.9" y2="614.5" stroke="#222" stroke-width="1.1"/>
<text x="127.9" y="631.8" font-family="DejaVu Sans, sans-serif" font-size="17.6" fill="#111" text-anchor="middle">3</text>
<line x1="54.9" y1="542.0" x2="58.9" y2="542.0" stroke="#222" stroke-width="1.1"/>
<text x="51.3" y="549.0" font-family="DejaVu Sans, sans-serif" font-size="17.6" fill="#111" text-anchor="end">3</text>
<line x1="196.9" y1="610.5" x2="196.9" y2="614.5" stroke="#222" stroke-width="1.1"/>
<text x="196.9" y="631.8" font-family="DejaVu Sans, sans-serif" font-size="17.6" fill="#111" text-anchor="middle">6</text>
<line x1="54.9" y1="473.4" x2="58.9" y2="473.4" stroke="#222" stroke-width="1.1"/>
<text x="51.3" y="480.4" font-family="DejaVu Sans, sans-serif" font-size="17.6" fill="#111" text-anchor="end">6</text>
<line x1="266.0" y1="610.5" x2="266.0" y2="614.5" stroke="#222" stroke-width="1.1"/>
<text x="266.0" y="631.8" font-family="DejaVu Sans, sans-serif" font-size="17.6" fill="#111" text-anchor="middle">9</text>
<line x1="54.9" y1="404.9" x2="58.9" y2="404.9" stroke="#222" stroke-width="1.1"/>
<text x="51.3" y="411.9" font-family="DejaVu Sans, sans-serif" font-size="17.6" fill="#111" text-anchor="end">9</text>
<line x1="335.0" y1="610.5" x2="335.0" y2="614.5" stroke="#222" stroke-width="1.1"/>
<text x="335.0" y="631.8" font-family="DejaVu Sans, sans-serif" font-size="17.6" fill="#111" text-anchor="middle">12</text>
<line x1="54.9" y1="336.3" x2="58.9" y2="336.3" stroke="#222" stroke-width="1.1"/>
<text x="51.3" y="343.3" font-family="DejaVu Sans, sans-serif" font-size="17.6" fill="#111" text-anchor="end">12</text>
<line x1="404.0" y1="610.5" x2="404.0" y2="614.5" stroke="#222" stroke-width="1.1"/>
<text x="404.0" y="631.8" font-family="DejaVu Sans, sans-serif" font-size="17.6" fill="#111" text-anchor="middle">15</text>
<line x1="54.9" y1="267.8" x2="58.9" y2="267.8" stroke="#222" stroke-width="1.1"/>
<text x="51.3" y="274.8" font-family="DejaVu Sans, sans-serif" font-size="17.6" fill="#111" text-anchor="end">15</text>
<line x1="76.2" y1="610.5" x2="76.2" y2="612.7" stroke="#333" stroke-width="0.9"/>
<line x1="56.699999999999996" y1="593.4" x2="58.9" y2="593.4" stroke="#333" stroke-width="0.9"/>
<line x1="93.4" y1="610.5" x2="93.4" y2="612.7" stroke="#333" stroke-width="0.9"/>
<line x1="56.699999999999996" y1="576.2" x2="58.9" y2="576.2" stroke="#333" stroke-width="0.9"/>
<line x1="110.7" y1="610.5" x2="110.7" y2="612.7" stroke="#333" stroke-width="0.9"/>
<line x1="56.699999999999996" y1="559.1" x2="58.9" y2="559.1" stroke="#333" stroke-width="0.9"/>
<line x1="145.2" y1="610.5" x2="145.2" y2="612.7" stroke="#333" stroke-width="0.9"/>
<line x1="56.699999999999996" y1="524.8" x2="58.9" y2="524.8" stroke="#333" stroke-width="0.9"/>
<line x1="162.4" y1="610.5" x2="162.4" y2="612.7" stroke="#333" stroke-width="0.9"/>
<line x1="56.699999999999996" y1="507.7" x2="58.9" y2="507.7" stroke="#333" stroke-width="0.9"/>
<line x1="179.7" y1="610.5" x2="179.7" y2="612.7" stroke="#333" stroke-width="0.9"/>
<line x1="56.699999999999996" y1="490.5" x2="58.9" y2="490.5" stroke="#333" stroke-width="0.9"/>
<line x1="214.2" y1="610.5" x2="214.2" y2="612.7" stroke="#333" stroke-width="0.9"/>
<line x1="56.699999999999996" y1="456.3" x2="58.9" y2="456.3" stroke="#333" stroke-width="0.9"/>
<line x1="231.5" y1="610.5" x2="231.5" y2="612.7" stroke="#333" stroke-width="0.9"/>
<line x1="56.699999999999996" y1="439.1" x2="58.9" y2="439.1" stroke="#333" stroke-width="0.9"/>
<line x1="248.7" y1="610.5" x2="248.7" y2="612.7" stroke="#333" stroke-width="0.9"/>
<line x1="56.699999999999996" y1="422.0" x2="58.9" y2="422.0" stroke="#333" stroke-width="0.9"/>
<line x1="283.2" y1="610.5" x2="283.2" y2="612.7" stroke="#333" stroke-width="0.9"/>
<line x1="56.699999999999996" y1="387.7" x2="58.9" y2="387.7" stroke="#333" stroke-width="0.9"/>
<line x1="300.5" y1="610.5" x2="300.5" y2="612.7" stroke="#333" stroke-width="0.9"/>
<line x1="56.699999999999996" y1="370.6" x2="58.9" y2="370.6" stroke="#333" stroke-width="0.9"/>
<line x1="317.7" y1="610.5" x2="317.7" y2="612.7" stroke="#333" stroke-width="0.9"/>
<line x1="56.699999999999996" y1="353.4" x2="58.9" y2="353.4" stroke="#333" stroke-width="0.9"/>
<line x1="352.2" y1="610.5" x2="352.2" y2="612.7" stroke="#333" stroke-width="0.9"/>
<line x1="56.699999999999996" y1="319.2" x2="58.9" y2="319.2" stroke="#333" stroke-width="0.9"/>
<line x1="369.5" y1="610.5" x2="369.5" y2="612.7" stroke="#333" stroke-width="0.9"/>
<line x1="56.699999999999996" y1="302.0" x2="58.9" y2="302.0" stroke="#333" stroke-width="0.9"/>
<line x1="386.7" y1="610.5" x2="386.7" y2="612.7" stroke="#333" stroke-width="0.9"/>
<line x1="56.699999999999996" y1="284.9" x2="58.9" y2="284.9" stroke="#333" stroke-width="0.9"/>
<text x="231.5" y="654" font-family="DejaVu Sans, sans-serif" font-size="17.6" fill="#111" text-anchor="middle">PBE Defect Formation Energy (eV)</text>
<text font-family="DejaVu Sans, sans-serif" font-size="17.6" fill="#111" text-anchor="middle" transform="translate(21,440) rotate(-90)">HSE+SOC Defect Formation Energy (eV)</text>
<text x="360.3" y="595.5" font-family="Liberation Sans, sans-serif" font-size="37.5" fill="#444" stroke="#444" stroke-width="0.35" textLength="38.5" lengthAdjust="spacingAndGlyphs" >(b)</text>
<line x1="482.4" y1="616.5" x2="820.6" y2="272.5" stroke="#111" stroke-width="1.5" stroke-dasharray="5.5,3.5"/>
<g clip-path="url(#clipC)"><circle cx="712" cy="362" r="7.8" fill="#ff0000" stroke="#111" stroke-width="1.15"/>
<circle cx="612.6" cy="427.6" r="7.8" fill="#ff0000" stroke="#111" stroke-width="1.15"/>
<circle cx="619" cy="515" r="7.8" fill="#ff0000" stroke="#111" stroke-width="1.15"/>
<circle cx="617" cy="516" r="7.8" fill="#ff0000" stroke="#111" stroke-width="1.15"/>
<circle cx="513" cy="572" r="7.8" fill="#ff0000" stroke="#111" stroke-width="1.15"/>
<circle cx="545" cy="572" r="7.8" fill="#ff0000" stroke="#111" stroke-width="1.15"/>
<circle cx="525" cy="594" r="7.8" fill="#ff0000" stroke="#111" stroke-width="1.15"/>
<circle cx="514" cy="601" r="7.8" fill="#ff0000" stroke="#111" stroke-width="1.15"/>
<circle cx="493" cy="606" r="7.8" fill="#ff0000" stroke="#111" stroke-width="1.15"/>
<circle cx="540" cy="576" r="7.8" fill="#ff0000" stroke="#111" stroke-width="1.15"/>
<circle cx="743" cy="321" r="7.8" fill="#0000ff" stroke="#111" stroke-width="1.15"/>
<circle cx="726" cy="339" r="7.8" fill="#0000ff" stroke="#111" stroke-width="1.15"/>
<circle cx="716" cy="345" r="7.8" fill="#0000ff" stroke="#111" stroke-width="1.15"/>
<circle cx="725" cy="350" r="7.8" fill="#0000ff" stroke="#111" stroke-width="1.15"/>
<circle cx="693" cy="366" r="7.8" fill="#0000ff" stroke="#111" stroke-width="1.15"/>
<circle cx="691" cy="372" r="7.8" fill="#0000ff" stroke="#111" stroke-width="1.15"/>
<circle cx="671" cy="388" r="7.8" fill="#0000ff" stroke="#111" stroke-width="1.15"/>
<circle cx="658" cy="409" r="7.8" fill="#0000ff" stroke="#111" stroke-width="1.15"/>
<circle cx="692" cy="366" r="7.8" fill="#0000ff" stroke="#111" stroke-width="1.15"/>
<circle cx="689" cy="372" r="7.8" fill="#0000ff" stroke="#111" stroke-width="1.15"/>
<circle cx="660" cy="408" r="7.8" fill="#0000ff" stroke="#111" stroke-width="1.15"/>
<circle cx="648" cy="419" r="7.8" fill="#0000ff" stroke="#111" stroke-width="1.15"/>
<circle cx="627" cy="435" r="7.8" fill="#0000ff" stroke="#111" stroke-width="1.15"/>
<circle cx="622" cy="452" r="7.8" fill="#0000ff" stroke="#111" stroke-width="1.15"/>
<circle cx="626" cy="436" r="7.8" fill="#0000ff" stroke="#111" stroke-width="1.15"/>
<circle cx="621" cy="450" r="7.8" fill="#0000ff" stroke="#111" stroke-width="1.15"/>
<circle cx="580.5" cy="479.5" r="7.8" fill="#0000ff" stroke="#111" stroke-width="1.15"/>
<circle cx="562" cy="510" r="7.8" fill="#0000ff" stroke="#111" stroke-width="1.15"/>
<circle cx="557" cy="526" r="7.8" fill="#0000ff" stroke="#111" stroke-width="1.15"/>
<circle cx="619" cy="535" r="7.8" fill="#0000ff" stroke="#111" stroke-width="1.15"/>
<circle cx="647" cy="422" r="7.8" fill="#0000ff" stroke="#111" stroke-width="1.15"/>
<circle cx="531" cy="542" r="7.8" fill="#0000ff" stroke="#111" stroke-width="1.15"/>
<circle cx="533" cy="564" r="7.8" fill="#0000ff" stroke="#111" stroke-width="1.15"/>
<circle cx="541" cy="568" r="7.8" fill="#0000ff" stroke="#111" stroke-width="1.15"/>
<circle cx="533" cy="582" r="7.8" fill="#0000ff" stroke="#111" stroke-width="1.15"/>
<circle cx="505" cy="591" r="7.8" fill="#0000ff" stroke="#111" stroke-width="1.15"/>
<circle cx="579" cy="482" r="7.8" fill="#0000ff" stroke="#111" stroke-width="1.15"/>
<circle cx="562" cy="507" r="7.8" fill="#0000ff" stroke="#111" stroke-width="1.15"/>
<circle cx="733.4" cy="375.2" r="7.8" fill="#008000" stroke="#111" stroke-width="1.15"/>
<circle cx="731.1" cy="382.7" r="7.8" fill="#008000" stroke="#111" stroke-width="1.15"/>
<circle cx="716.5" cy="393.3" r="7.8" fill="#008000" stroke="#111" stroke-width="1.15"/>
<circle cx="724.5" cy="393.1" r="7.8" fill="#008000" stroke="#111" stroke-width="1.15"/>
<circle cx="710.1" cy="399.0" r="7.8" fill="#008000" stroke="#111" stroke-width="1.15"/>
<circle cx="693.5" cy="409.8" r="7.8" fill="#008000" stroke="#111" stroke-width="1.15"/>
<circle cx="706.8" cy="409.4" r="7.8" fill="#008000" stroke="#111" stroke-width="1.15"/>
<circle cx="689.7" cy="418.8" r="7.8" fill="#008000" stroke="#111" stroke-width="1.15"/>
<circle cx="685.0" cy="425.1" r="7.8" fill="#008000" stroke="#111" stroke-width="1.15"/>
<circle cx="693.0" cy="425.1" r="7.8" fill="#008000" stroke="#111" stroke-width="1.15"/>
<circle cx="690.6" cy="435.6" r="7.8" fill="#008000" stroke="#111" stroke-width="1.15"/>
<circle cx="675.7" cy="442.8" r="7.8" fill="#008000" stroke="#111" stroke-width="1.15"/>
<circle cx="683.8" cy="442.5" r="7.8" fill="#008000" stroke="#111" stroke-width="1.15"/>
<circle cx="661.8" cy="450.5" r="7.8" fill="#008000" stroke="#111" stroke-width="1.15"/>
<circle cx="670.1" cy="451.8" r="7.8" fill="#008000" stroke="#111" stroke-width="1.15"/>
<circle cx="654.3" cy="460.4" r="7.8" fill="#008000" stroke="#111" stroke-width="1.15"/>
<circle cx="610.8" cy="469.1" r="7.8" fill="#008000" stroke="#111" stroke-width="1.15"/>
<circle cx="648.8" cy="469.5" r="7.8" fill="#008000" stroke="#111" stroke-width="1.15"/>
<circle cx="661.9" cy="470.8" r="7.8" fill="#008000" stroke="#111" stroke-width="1.15"/>
<circle cx="643.5" cy="478.3" r="7.8" fill="#008000" stroke="#111" stroke-width="1.15"/>
<circle cx="653.4" cy="479.7" r="7.8" fill="#008000" stroke="#111" stroke-width="1.15"/>
<circle cx="580.6" cy="487.8" r="7.8" fill="#008000" stroke="#111" stroke-width="1.15"/>
<circle cx="639.7" cy="487.7" r="7.8" fill="#008000" stroke="#111" stroke-width="1.15"/>
<circle cx="616.6" cy="495.8" r="7.8" fill="#008000" stroke="#111" stroke-width="1.15"/>
<circle cx="624.7" cy="497.4" r="7.8" fill="#008000" stroke="#111" stroke-width="1.15"/>
<circle cx="634.4" cy="496.4" r="7.8" fill="#008000" stroke="#111" stroke-width="1.15"/>
<circle cx="608.1" cy="503.8" r="7.8" fill="#008000" stroke="#111" stroke-width="1.15"/>
<circle cx="618.1" cy="502.5" r="7.8" fill="#008000" stroke="#111" stroke-width="1.15"/>
<circle cx="563.7" cy="514.6" r="7.8" fill="#008000" stroke="#111" stroke-width="1.15"/>
<circle cx="596.2" cy="513.4" r="7.8" fill="#008000" stroke="#111" stroke-width="1.15"/>
<circle cx="604.5" cy="512.5" r="7.8" fill="#008000" stroke="#111" stroke-width="1.15"/>
<circle cx="614.2" cy="514.1" r="7.8" fill="#008000" stroke="#111" stroke-width="1.15"/>
<circle cx="591.0" cy="520.7" r="7.8" fill="#008000" stroke="#111" stroke-width="1.15"/>
<circle cx="601.8" cy="522.0" r="7.8" fill="#008000" stroke="#111" stroke-width="1.15"/>
<circle cx="585.0" cy="531.9" r="7.8" fill="#008000" stroke="#111" stroke-width="1.15"/>
<circle cx="538.1" cy="539.1" r="7.8" fill="#008000" stroke="#111" stroke-width="1.15"/>
<circle cx="548.7" cy="540.0" r="7.8" fill="#008000" stroke="#111" stroke-width="1.15"/>
<circle cx="580.7" cy="540.5" r="7.8" fill="#008000" stroke="#111" stroke-width="1.15"/>
<circle cx="536.8" cy="549.4" r="7.8" fill="#008000" stroke="#111" stroke-width="1.15"/>
<circle cx="543.0" cy="548.1" r="7.8" fill="#008000" stroke="#111" stroke-width="1.15"/>
<circle cx="555.7" cy="549.0" r="7.8" fill="#008000" stroke="#111" stroke-width="1.15"/>
<circle cx="563.8" cy="546.0" r="7.8" fill="#008000" stroke="#111" stroke-width="1.15"/>
<circle cx="576.2" cy="546.5" r="7.8" fill="#008000" stroke="#111" stroke-width="1.15"/>
<circle cx="531.1" cy="554.2" r="7.8" fill="#008000" stroke="#111" stroke-width="1.15"/>
<circle cx="538.2" cy="558.1" r="7.8" fill="#008000" stroke="#111" stroke-width="1.15"/>
<circle cx="550.2" cy="556.6" r="7.8" fill="#008000" stroke="#111" stroke-width="1.15"/>
<circle cx="559.4" cy="557.5" r="7.8" fill="#008000" stroke="#111" stroke-width="1.15"/>
<circle cx="570.2" cy="556.5" r="7.8" fill="#008000" stroke="#111" stroke-width="1.15"/>
<circle cx="536.4" cy="564.0" r="7.8" fill="#008000" stroke="#111" stroke-width="1.15"/>
<circle cx="520.8" cy="574.2" r="7.8" fill="#008000" stroke="#111" stroke-width="1.15"/>
<circle cx="530.8" cy="572.0" r="7.8" fill="#008000" stroke="#111" stroke-width="1.15"/>
<circle cx="539.0" cy="571.7" r="7.8" fill="#008000" stroke="#111" stroke-width="1.15"/>
<circle cx="762" cy="354" r="7.8" fill="#008000" stroke="#111" stroke-width="1.15"/>
<circle cx="736" cy="364" r="7.8" fill="#008000" stroke="#111" stroke-width="1.15"/>
<circle cx="735" cy="372" r="7.8" fill="#008000" stroke="#111" stroke-width="1.15"/>
<circle cx="730" cy="393" r="7.8" fill="#008000" stroke="#111" stroke-width="1.15"/>
<circle cx="724" cy="399" r="7.8" fill="#008000" stroke="#111" stroke-width="1.15"/>
<circle cx="715" cy="412" r="7.8" fill="#008000" stroke="#111" stroke-width="1.15"/>
<circle cx="701" cy="414" r="7.8" fill="#008000" stroke="#111" stroke-width="1.15"/>
<circle cx="649.6" cy="375" r="7.8" fill="#008000" stroke="#111" stroke-width="1.15"/>
<circle cx="730" cy="394" r="7.8" fill="#008000" stroke="#111" stroke-width="1.15"/>
<circle cx="722" cy="399" r="7.8" fill="#008000" stroke="#111" stroke-width="1.15"/>
<circle cx="702" cy="416" r="7.8" fill="#008000" stroke="#111" stroke-width="1.15"/>
<circle cx="691" cy="430" r="7.8" fill="#008000" stroke="#111" stroke-width="1.15"/>
<circle cx="692" cy="447" r="7.8" fill="#008000" stroke="#111" stroke-width="1.15"/>
<circle cx="680" cy="445" r="7.8" fill="#008000" stroke="#111" stroke-width="1.15"/>
<circle cx="668" cy="446" r="7.8" fill="#008000" stroke="#111" stroke-width="1.15"/>
<circle cx="662" cy="460" r="7.8" fill="#008000" stroke="#111" stroke-width="1.15"/>
<circle cx="660" cy="468" r="7.8" fill="#008000" stroke="#111" stroke-width="1.15"/>
<circle cx="654" cy="476" r="7.8" fill="#008000" stroke="#111" stroke-width="1.15"/>
<circle cx="648" cy="482" r="7.8" fill="#008000" stroke="#111" stroke-width="1.15"/>
<circle cx="634" cy="488" r="7.8" fill="#008000" stroke="#111" stroke-width="1.15"/>
<circle cx="606" cy="460" r="7.8" fill="#008000" stroke="#111" stroke-width="1.15"/>
<circle cx="736" cy="370" r="7.8" fill="#008000" stroke="#111" stroke-width="1.15"/>
<circle cx="694" cy="420" r="7.8" fill="#008000" stroke="#111" stroke-width="1.15"/>
<circle cx="708" cy="400" r="7.8" fill="#008000" stroke="#111" stroke-width="1.15"/>
<circle cx="693" cy="448" r="7.8" fill="#008000" stroke="#111" stroke-width="1.15"/>
<circle cx="685" cy="442" r="7.8" fill="#008000" stroke="#111" stroke-width="1.15"/>
<circle cx="673" cy="446" r="7.8" fill="#008000" stroke="#111" stroke-width="1.15"/>
<circle cx="665" cy="460" r="7.8" fill="#008000" stroke="#111" stroke-width="1.15"/>
<circle cx="661" cy="468" r="7.8" fill="#008000" stroke="#111" stroke-width="1.15"/>
<circle cx="651" cy="480" r="7.8" fill="#008000" stroke="#111" stroke-width="1.15"/>
<circle cx="639" cy="500" r="7.8" fill="#008000" stroke="#111" stroke-width="1.15"/>
<circle cx="629" cy="496" r="7.8" fill="#008000" stroke="#111" stroke-width="1.15"/>
<circle cx="615" cy="506" r="7.8" fill="#008000" stroke="#111" stroke-width="1.15"/>
<circle cx="609" cy="520" r="7.8" fill="#008000" stroke="#111" stroke-width="1.15"/>
<circle cx="603" cy="524" r="7.8" fill="#008000" stroke="#111" stroke-width="1.15"/>
<circle cx="591" cy="532" r="7.8" fill="#008000" stroke="#111" stroke-width="1.15"/>
<circle cx="579" cy="542" r="7.8" fill="#008000" stroke="#111" stroke-width="1.15"/>
<circle cx="567" cy="548" r="7.8" fill="#008000" stroke="#111" stroke-width="1.15"/>
<circle cx="607" cy="460" r="7.8" fill="#008000" stroke="#111" stroke-width="1.15"/>
<circle cx="591" cy="478" r="7.8" fill="#008000" stroke="#111" stroke-width="1.15"/>
<circle cx="579" cy="494" r="7.8" fill="#008000" stroke="#111" stroke-width="1.15"/>
<circle cx="549" cy="534" r="7.8" fill="#008000" stroke="#111" stroke-width="1.15"/>
<circle cx="701" cy="422" r="7.8" fill="#008000" stroke="#111" stroke-width="1.15"/>
<circle cx="540" cy="534" r="7.8" fill="#008000" stroke="#111" stroke-width="1.15"/>
<circle cx="532" cy="548" r="7.8" fill="#008000" stroke="#111" stroke-width="1.15"/>
<circle cx="553" cy="536" r="7.8" fill="#008000" stroke="#111" stroke-width="1.15"/>
<circle cx="575" cy="560" r="7.8" fill="#008000" stroke="#111" stroke-width="1.15"/>
<circle cx="563" cy="556" r="7.8" fill="#008000" stroke="#111" stroke-width="1.15"/>
<circle cx="587" cy="546" r="7.8" fill="#008000" stroke="#111" stroke-width="1.15"/>
<circle cx="591" cy="530" r="7.8" fill="#008000" stroke="#111" stroke-width="1.15"/>
<circle cx="607" cy="520" r="7.8" fill="#008000" stroke="#111" stroke-width="1.15"/>
<circle cx="613" cy="510" r="7.8" fill="#008000" stroke="#111" stroke-width="1.15"/>
<circle cx="515" cy="590" r="7.8" fill="#008000" stroke="#111" stroke-width="1.15"/>
<circle cx="581" cy="494" r="7.8" fill="#008000" stroke="#111" stroke-width="1.15"/>
<circle cx="633" cy="490" r="7.8" fill="#008000" stroke="#111" stroke-width="1.15"/>
<circle cx="590" cy="476" r="7.8" fill="#008000" stroke="#111" stroke-width="1.15"/>
<circle cx="605" cy="460" r="7.8" fill="#008000" stroke="#111" stroke-width="1.15"/>
<circle cx="579" cy="496" r="7.8" fill="#008000" stroke="#111" stroke-width="1.15"/>
<circle cx="640" cy="500" r="7.8" fill="#008000" stroke="#111" stroke-width="1.15"/>
<circle cx="711.9" cy="367.1" r="7.8" fill="#800080" stroke="#111" stroke-width="1.15"/>
<circle cx="720.3" cy="366.3" r="7.8" fill="#800080" stroke="#111" stroke-width="1.15"/>
<circle cx="729.1" cy="367.4" r="7.8" fill="#800080" stroke="#111" stroke-width="1.15"/>
<circle cx="696.9" cy="372.5" r="7.8" fill="#800080" stroke="#111" stroke-width="1.15"/>
<circle cx="705.9" cy="373.4" r="7.8" fill="#800080" stroke="#111" stroke-width="1.15"/>
<circle cx="714.7" cy="374.8" r="7.8" fill="#800080" stroke="#111" stroke-width="1.15"/>
<circle cx="723.2" cy="373.2" r="7.8" fill="#800080" stroke="#111" stroke-width="1.15"/>
<circle cx="698.1" cy="381.7" r="7.8" fill="#800080" stroke="#111" stroke-width="1.15"/>
<circle cx="711.0" cy="381.8" r="7.8" fill="#800080" stroke="#111" stroke-width="1.15"/>
<circle cx="719.0" cy="384.8" r="7.8" fill="#800080" stroke="#111" stroke-width="1.15"/>
<circle cx="686.5" cy="392.8" r="7.8" fill="#800080" stroke="#111" stroke-width="1.15"/>
<circle cx="696.4" cy="391.2" r="7.8" fill="#800080" stroke="#111" stroke-width="1.15"/>
<circle cx="704.1" cy="390.6" r="7.8" fill="#800080" stroke="#111" stroke-width="1.15"/>
<circle cx="681.7" cy="400.2" r="7.8" fill="#800080" stroke="#111" stroke-width="1.15"/>
<circle cx="689.1" cy="398.4" r="7.8" fill="#800080" stroke="#111" stroke-width="1.15"/>
<circle cx="701.1" cy="399.6" r="7.8" fill="#800080" stroke="#111" stroke-width="1.15"/>
<circle cx="677.0" cy="409.4" r="7.8" fill="#800080" stroke="#111" stroke-width="1.15"/>
<circle cx="686.0" cy="407.0" r="7.8" fill="#800080" stroke="#111" stroke-width="1.15"/>
<circle cx="669.8" cy="417.8" r="7.8" fill="#800080" stroke="#111" stroke-width="1.15"/>
<circle cx="681.7" cy="418.8" r="7.8" fill="#800080" stroke="#111" stroke-width="1.15"/>
<circle cx="655.6" cy="424.3" r="7.8" fill="#800080" stroke="#111" stroke-width="1.15"/>
<circle cx="664.0" cy="428.2" r="7.8" fill="#800080" stroke="#111" stroke-width="1.15"/>
<circle cx="674.3" cy="428.0" r="7.8" fill="#800080" stroke="#111" stroke-width="1.15"/>
<circle cx="648.3" cy="433.3" r="7.8" fill="#800080" stroke="#111" stroke-width="1.15"/>
<circle cx="658.5" cy="434.1" r="7.8" fill="#800080" stroke="#111" stroke-width="1.15"/>
<circle cx="669.2" cy="435.7" r="7.8" fill="#800080" stroke="#111" stroke-width="1.15"/>
<circle cx="678.3" cy="433.3" r="7.8" fill="#800080" stroke="#111" stroke-width="1.15"/>
<circle cx="633.6" cy="444.9" r="7.8" fill="#800080" stroke="#111" stroke-width="1.15"/>
<circle cx="646.9" cy="441.9" r="7.8" fill="#800080" stroke="#111" stroke-width="1.15"/>
<circle cx="653.2" cy="441.6" r="7.8" fill="#800080" stroke="#111" stroke-width="1.15"/>
<circle cx="666.7" cy="441.9" r="7.8" fill="#800080" stroke="#111" stroke-width="1.15"/>
<circle cx="631.7" cy="454.1" r="7.8" fill="#800080" stroke="#111" stroke-width="1.15"/>
<circle cx="641.1" cy="450.2" r="7.8" fill="#800080" stroke="#111" stroke-width="1.15"/>
<circle cx="648.6" cy="452.6" r="7.8" fill="#800080" stroke="#111" stroke-width="1.15"/>
<circle cx="623.8" cy="460.5" r="7.8" fill="#800080" stroke="#111" stroke-width="1.15"/>
<circle cx="633.3" cy="460.6" r="7.8" fill="#800080" stroke="#111" stroke-width="1.15"/>
<circle cx="643.9" cy="462.3" r="7.8" fill="#800080" stroke="#111" stroke-width="1.15"/>
<circle cx="618.6" cy="469.2" r="7.8" fill="#800080" stroke="#111" stroke-width="1.15"/>
<circle cx="628.2" cy="467.9" r="7.8" fill="#800080" stroke="#111" stroke-width="1.15"/>
<circle cx="639.8" cy="470.8" r="7.8" fill="#800080" stroke="#111" stroke-width="1.15"/>
<circle cx="605.9" cy="478.2" r="7.8" fill="#800080" stroke="#111" stroke-width="1.15"/>
<circle cx="616.3" cy="476.4" r="7.8" fill="#800080" stroke="#111" stroke-width="1.15"/>
<circle cx="626.5" cy="479.8" r="7.8" fill="#800080" stroke="#111" stroke-width="1.15"/>
<circle cx="633.0" cy="478.1" r="7.8" fill="#800080" stroke="#111" stroke-width="1.15"/>
<circle cx="588.7" cy="486.1" r="7.8" fill="#800080" stroke="#111" stroke-width="1.15"/>
<circle cx="601.5" cy="485.3" r="7.8" fill="#800080" stroke="#111" stroke-width="1.15"/>
<circle cx="611.8" cy="486.6" r="7.8" fill="#800080" stroke="#111" stroke-width="1.15"/>
<circle cx="619.6" cy="486.9" r="7.8" fill="#800080" stroke="#111" stroke-width="1.15"/>
<circle cx="629.8" cy="486.7" r="7.8" fill="#800080" stroke="#111" stroke-width="1.15"/>
<circle cx="584.3" cy="494.0" r="7.8" fill="#800080" stroke="#111" stroke-width="1.15"/>
<circle cx="596.3" cy="494.2" r="7.8" fill="#800080" stroke="#111" stroke-width="1.15"/>
<circle cx="605.0" cy="495.3" r="7.8" fill="#800080" stroke="#111" stroke-width="1.15"/>
<circle cx="580.0" cy="502.9" r="7.8" fill="#800080" stroke="#111" stroke-width="1.15"/>
<circle cx="590.3" cy="505.1" r="7.8" fill="#800080" stroke="#111" stroke-width="1.15"/>
<circle cx="600.4" cy="502.4" r="7.8" fill="#800080" stroke="#111" stroke-width="1.15"/>
<circle cx="574.5" cy="511.4" r="7.8" fill="#800080" stroke="#111" stroke-width="1.15"/>
<circle cx="585.7" cy="514.7" r="7.8" fill="#800080" stroke="#111" stroke-width="1.15"/>
<circle cx="568.6" cy="520.2" r="7.8" fill="#800080" stroke="#111" stroke-width="1.15"/>
<circle cx="580.0" cy="521.8" r="7.8" fill="#800080" stroke="#111" stroke-width="1.15"/>
<circle cx="566.2" cy="530.6" r="7.8" fill="#800080" stroke="#111" stroke-width="1.15"/>
<circle cx="573.5" cy="529.8" r="7.8" fill="#800080" stroke="#111" stroke-width="1.15"/>
<circle cx="558.9" cy="539.8" r="7.8" fill="#800080" stroke="#111" stroke-width="1.15"/>
<circle cx="569.3" cy="539.4" r="7.8" fill="#800080" stroke="#111" stroke-width="1.15"/>
<circle cx="766" cy="312" r="7.8" fill="#800080" stroke="#111" stroke-width="1.15"/>
<circle cx="759" cy="332" r="7.8" fill="#800080" stroke="#111" stroke-width="1.15"/>
<circle cx="743" cy="336" r="7.8" fill="#800080" stroke="#111" stroke-width="1.15"/>
<circle cx="741" cy="344" r="7.8" fill="#800080" stroke="#111" stroke-width="1.15"/>
<circle cx="740" cy="350" r="7.8" fill="#800080" stroke="#111" stroke-width="1.15"/>
<circle cx="729" cy="362" r="7.8" fill="#800080" stroke="#111" stroke-width="1.15"/>
<circle cx="724" cy="370" r="7.8" fill="#800080" stroke="#111" stroke-width="1.15"/>
<circle cx="716" cy="376" r="7.8" fill="#800080" stroke="#111" stroke-width="1.15"/>
<circle cx="704" cy="373" r="7.8" fill="#800080" stroke="#111" stroke-width="1.15"/>
<circle cx="702" cy="384" r="7.8" fill="#800080" stroke="#111" stroke-width="1.15"/>
<circle cx="712" cy="388" r="7.8" fill="#800080" stroke="#111" stroke-width="1.15"/>
<circle cx="690" cy="390" r="7.8" fill="#800080" stroke="#111" stroke-width="1.15"/>
<circle cx="680" cy="398" r="7.8" fill="#800080" stroke="#111" stroke-width="1.15"/>
<circle cx="686" cy="406" r="7.8" fill="#800080" stroke="#111" stroke-width="1.15"/>
<circle cx="674" cy="406" r="7.8" fill="#800080" stroke="#111" stroke-width="1.15"/>
<circle cx="666" cy="414" r="7.8" fill="#800080" stroke="#111" stroke-width="1.15"/>
<circle cx="678" cy="416" r="7.8" fill="#800080" stroke="#111" stroke-width="1.15"/>
<circle cx="700" cy="394" r="7.8" fill="#800080" stroke="#111" stroke-width="1.15"/>
<circle cx="720" cy="372" r="7.8" fill="#800080" stroke="#111" stroke-width="1.15"/>
<circle cx="728" cy="364" r="7.8" fill="#800080" stroke="#111" stroke-width="1.15"/>
<circle cx="692" cy="390" r="7.8" fill="#800080" stroke="#111" stroke-width="1.15"/>
<circle cx="684" cy="404" r="7.8" fill="#800080" stroke="#111" stroke-width="1.15"/>
<circle cx="676" cy="400" r="7.8" fill="#800080" stroke="#111" stroke-width="1.15"/>
<circle cx="664" cy="416" r="7.8" fill="#800080" stroke="#111" stroke-width="1.15"/>
<circle cx="678" cy="420" r="7.8" fill="#800080" stroke="#111" stroke-width="1.15"/>
<circle cx="664" cy="432" r="7.8" fill="#800080" stroke="#111" stroke-width="1.15"/>
<circle cx="650" cy="428" r="7.8" fill="#800080" stroke="#111" stroke-width="1.15"/>
<circle cx="644" cy="446" r="7.8" fill="#800080" stroke="#111" stroke-width="1.15"/>
<circle cx="640" cy="454" r="7.8" fill="#800080" stroke="#111" stroke-width="1.15"/>
<circle cx="654" cy="444" r="7.8" fill="#800080" stroke="#111" stroke-width="1.15"/>
<circle cx="630" cy="466" r="7.8" fill="#800080" stroke="#111" stroke-width="1.15"/>
<circle cx="620" cy="472" r="7.8" fill="#800080" stroke="#111" stroke-width="1.15"/>
<circle cx="606" cy="476" r="7.8" fill="#800080" stroke="#111" stroke-width="1.15"/>
<circle cx="616" cy="486" r="7.8" fill="#800080" stroke="#111" stroke-width="1.15"/>
<circle cx="710" cy="386" r="7.8" fill="#800080" stroke="#111" stroke-width="1.15"/>
<circle cx="696" cy="382" r="7.8" fill="#800080" stroke="#111" stroke-width="1.15"/>
<circle cx="598.6" cy="440" r="7.8" fill="#800080" stroke="#111" stroke-width="1.15"/>
<circle cx="641" cy="452" r="7.8" fill="#800080" stroke="#111" stroke-width="1.15"/>
<circle cx="633" cy="460" r="7.8" fill="#800080" stroke="#111" stroke-width="1.15"/>
<circle cx="619" cy="470" r="7.8" fill="#800080" stroke="#111" stroke-width="1.15"/>
<circle cx="605" cy="476" r="7.8" fill="#800080" stroke="#111" stroke-width="1.15"/>
<circle cx="611" cy="482" r="7.8" fill="#800080" stroke="#111" stroke-width="1.15"/>
<circle cx="599" cy="490" r="7.8" fill="#800080" stroke="#111" stroke-width="1.15"/>
<circle cx="617" cy="494" r="7.8" fill="#800080" stroke="#111" stroke-width="1.15"/>
<circle cx="593" cy="502" r="7.8" fill="#800080" stroke="#111" stroke-width="1.15"/>
<circle cx="581" cy="508" r="7.8" fill="#800080" stroke="#111" stroke-width="1.15"/>
<circle cx="585" cy="518" r="7.8" fill="#800080" stroke="#111" stroke-width="1.15"/>
<circle cx="569" cy="522" r="7.8" fill="#800080" stroke="#111" stroke-width="1.15"/>
<circle cx="561" cy="532" r="7.8" fill="#800080" stroke="#111" stroke-width="1.15"/>
<circle cx="553" cy="542" r="7.8" fill="#800080" stroke="#111" stroke-width="1.15"/>
<circle cx="573" cy="540" r="7.8" fill="#800080" stroke="#111" stroke-width="1.15"/>
<circle cx="651" cy="432" r="7.8" fill="#800080" stroke="#111" stroke-width="1.15"/>
<circle cx="665" cy="424" r="7.8" fill="#800080" stroke="#111" stroke-width="1.15"/>
<circle cx="629" cy="476" r="7.8" fill="#800080" stroke="#111" stroke-width="1.15"/>
<circle cx="589" cy="494" r="7.8" fill="#800080" stroke="#111" stroke-width="1.15"/>
<circle cx="543" cy="558" r="7.8" fill="#800080" stroke="#111" stroke-width="1.15"/>
<circle cx="547" cy="548" r="7.8" fill="#800080" stroke="#111" stroke-width="1.15"/>
<circle cx="561" cy="544" r="7.8" fill="#800080" stroke="#111" stroke-width="1.15"/>
<circle cx="569" cy="536" r="7.8" fill="#800080" stroke="#111" stroke-width="1.15"/>
<circle cx="567" cy="524" r="7.8" fill="#800080" stroke="#111" stroke-width="1.15"/>
<circle cx="579" cy="518" r="7.8" fill="#800080" stroke="#111" stroke-width="1.15"/>
<circle cx="583" cy="504" r="7.8" fill="#800080" stroke="#111" stroke-width="1.15"/>
<circle cx="595" cy="496" r="7.8" fill="#800080" stroke="#111" stroke-width="1.15"/>
<circle cx="607" cy="492" r="7.8" fill="#800080" stroke="#111" stroke-width="1.15"/>
<circle cx="603" cy="484" r="7.8" fill="#800080" stroke="#111" stroke-width="1.15"/>
<circle cx="621" cy="496" r="7.8" fill="#800080" stroke="#111" stroke-width="1.15"/>
<circle cx="591" cy="508" r="7.8" fill="#800080" stroke="#111" stroke-width="1.15"/>
<circle cx="526" cy="575" r="7.8" fill="#800080" stroke="#111" stroke-width="1.15"/>
<circle cx="502" cy="611" r="7.8" fill="#800080" stroke="#111" stroke-width="1.15"/>
<circle cx="613" cy="468" r="7.8" fill="#800080" stroke="#111" stroke-width="1.15"/>
<circle cx="599" cy="486" r="7.8" fill="#800080" stroke="#111" stroke-width="1.15"/></g>
<line x1="487.9" y1="272.5" x2="487.9" y2="616.5" stroke="#b0b0b0" stroke-opacity="0.7" stroke-width="1.1"/>
<line x1="482.4" y1="610.9" x2="820.6" y2="610.9" stroke="#b0b0b0" stroke-opacity="0.7" stroke-width="1.1"/>
<line x1="543.4" y1="272.5" x2="543.4" y2="616.5" stroke="#b0b0b0" stroke-opacity="0.7" stroke-width="1.1"/>
<line x1="482.4" y1="554.5" x2="820.6" y2="554.5" stroke="#b0b0b0" stroke-opacity="0.7" stroke-width="1.1"/>
<line x1="598.8" y1="272.5" x2="598.8" y2="616.5" stroke="#b0b0b0" stroke-opacity="0.7" stroke-width="1.1"/>
<line x1="482.4" y1="498.1" x2="820.6" y2="498.1" stroke="#b0b0b0" stroke-opacity="0.7" stroke-width="1.1"/>
<line x1="654.2" y1="272.5" x2="654.2" y2="616.5" stroke="#b0b0b0" stroke-opacity="0.7" stroke-width="1.1"/>
<line x1="482.4" y1="441.7" x2="820.6" y2="441.7" stroke="#b0b0b0" stroke-opacity="0.7" stroke-width="1.1"/>
<line x1="709.7" y1="272.5" x2="709.7" y2="616.5" stroke="#b0b0b0" stroke-opacity="0.7" stroke-width="1.1"/>
<line x1="482.4" y1="385.3" x2="820.6" y2="385.3" stroke="#b0b0b0" stroke-opacity="0.7" stroke-width="1.1"/>
<line x1="765.1" y1="272.5" x2="765.1" y2="616.5" stroke="#b0b0b0" stroke-opacity="0.7" stroke-width="1.1"/>
<line x1="482.4" y1="328.9" x2="820.6" y2="328.9" stroke="#b0b0b0" stroke-opacity="0.7" stroke-width="1.1"/>
<line x1="481.79999999999995" y1="272.5" x2="821.2" y2="272.5" stroke="#222" stroke-width="1.3"/>
<line x1="481.79999999999995" y1="616.5" x2="821.2" y2="616.5" stroke="#222" stroke-width="1.3"/>
<line x1="482.4" y1="272.5" x2="482.4" y2="616.5" stroke="#222" stroke-width="1.3"/>
<line x1="820.6" y1="272.5" x2="820.6" y2="616.5" stroke="#222" stroke-width="1.3"/>
<line x1="487.9" y1="616.5" x2="487.9" y2="620.5" stroke="#222" stroke-width="1.1"/>
<text x="487.9" y="637.5" font-family="DejaVu Sans, sans-serif" font-size="17.6" fill="#111" text-anchor="middle">−4</text>
<line x1="478.4" y1="610.9" x2="482.4" y2="610.9" stroke="#222" stroke-width="1.1"/>
<text x="476" y="617.9" font-family="DejaVu Sans, sans-serif" font-size="17.6" fill="#111" text-anchor="end">−4</text>
<line x1="543.4" y1="616.5" x2="543.4" y2="620.5" stroke="#222" stroke-width="1.1"/>
<text x="543.4" y="637.5" font-family="DejaVu Sans, sans-serif" font-size="17.6" fill="#111" text-anchor="middle">−2</text>
<line x1="478.4" y1="554.5" x2="482.4" y2="554.5" stroke="#222" stroke-width="1.1"/>
<text x="476" y="561.5" font-family="DejaVu Sans, sans-serif" font-size="17.6" fill="#111" text-anchor="end">−2</text>
<line x1="598.8" y1="616.5" x2="598.8" y2="620.5" stroke="#222" stroke-width="1.1"/>
<text x="598.8" y="637.5" font-family="DejaVu Sans, sans-serif" font-size="17.6" fill="#111" text-anchor="middle">0</text>
<line x1="478.4" y1="498.1" x2="482.4" y2="498.1" stroke="#222" stroke-width="1.1"/>
<text x="476" y="505.1" font-family="DejaVu Sans, sans-serif" font-size="17.6" fill="#111" text-anchor="end">0</text>
<line x1="654.2" y1="616.5" x2="654.2" y2="620.5" stroke="#222" stroke-width="1.1"/>
<text x="654.2" y="637.5" font-family="DejaVu Sans, sans-serif" font-size="17.6" fill="#111" text-anchor="middle">2</text>
<line x1="478.4" y1="441.7" x2="482.4" y2="441.7" stroke="#222" stroke-width="1.1"/>
<text x="476" y="448.7" font-family="DejaVu Sans, sans-serif" font-size="17.6" fill="#111" text-anchor="end">2</text>
<line x1="709.7" y1="616.5" x2="709.7" y2="620.5" stroke="#222" stroke-width="1.1"/>
<text x="709.7" y="637.5" font-family="DejaVu Sans, sans-serif" font-size="17.6" fill="#111" text-anchor="middle">4</text>
<line x1="478.4" y1="385.3" x2="482.4" y2="385.3" stroke="#222" stroke-width="1.1"/>
<text x="476" y="392.3" font-family="DejaVu Sans, sans-serif" font-size="17.6" fill="#111" text-anchor="end">4</text>
<line x1="765.1" y1="616.5" x2="765.1" y2="620.5" stroke="#222" stroke-width="1.1"/>
<text x="765.1" y="637.5" font-family="DejaVu Sans, sans-serif" font-size="17.6" fill="#111" text-anchor="middle">6</text>
<line x1="478.4" y1="328.9" x2="482.4" y2="328.9" stroke="#222" stroke-width="1.1"/>
<text x="476" y="335.9" font-family="DejaVu Sans, sans-serif" font-size="17.6" fill="#111" text-anchor="end">6</text>
<line x1="820.6" y1="616.5" x2="820.6" y2="620.5" stroke="#222" stroke-width="1.1"/>
<text x="820.6" y="637.5" font-family="DejaVu Sans, sans-serif" font-size="17.6" fill="#111" text-anchor="middle">8</text>
<line x1="478.4" y1="272.5" x2="482.4" y2="272.5" stroke="#222" stroke-width="1.1"/>
<text x="476" y="279.5" font-family="DejaVu Sans, sans-serif" font-size="17.6" fill="#111" text-anchor="end">8</text>
<line x1="501.8" y1="616.5" x2="501.8" y2="618.7" stroke="#333" stroke-width="0.9"/>
<line x1="480.2" y1="596.8" x2="482.4" y2="596.8" stroke="#333" stroke-width="0.9"/>
<line x1="515.6" y1="616.5" x2="515.6" y2="618.7" stroke="#333" stroke-width="0.9"/>
<line x1="480.2" y1="582.7" x2="482.4" y2="582.7" stroke="#333" stroke-width="0.9"/>
<line x1="529.5" y1="616.5" x2="529.5" y2="618.7" stroke="#333" stroke-width="0.9"/>
<line x1="480.2" y1="568.6" x2="482.4" y2="568.6" stroke="#333" stroke-width="0.9"/>
<line x1="557.2" y1="616.5" x2="557.2" y2="618.7" stroke="#333" stroke-width="0.9"/>
<line x1="480.2" y1="540.4" x2="482.4" y2="540.4" stroke="#333" stroke-width="0.9"/>
<line x1="571.1" y1="616.5" x2="571.1" y2="618.7" stroke="#333" stroke-width="0.9"/>
<line x1="480.2" y1="526.3" x2="482.4" y2="526.3" stroke="#333" stroke-width="0.9"/>
<line x1="584.9" y1="616.5" x2="584.9" y2="618.7" stroke="#333" stroke-width="0.9"/>
<line x1="480.2" y1="512.2" x2="482.4" y2="512.2" stroke="#333" stroke-width="0.9"/>
<line x1="612.7" y1="616.5" x2="612.7" y2="618.7" stroke="#333" stroke-width="0.9"/>
<line x1="480.2" y1="484.0" x2="482.4" y2="484.0" stroke="#333" stroke-width="0.9"/>
<line x1="626.5" y1="616.5" x2="626.5" y2="618.7" stroke="#333" stroke-width="0.9"/>
<line x1="480.2" y1="469.9" x2="482.4" y2="469.9" stroke="#333" stroke-width="0.9"/>
<line x1="640.4" y1="616.5" x2="640.4" y2="618.7" stroke="#333" stroke-width="0.9"/>
<line x1="480.2" y1="455.8" x2="482.4" y2="455.8" stroke="#333" stroke-width="0.9"/>
<line x1="668.1" y1="616.5" x2="668.1" y2="618.7" stroke="#333" stroke-width="0.9"/>
<line x1="480.2" y1="427.6" x2="482.4" y2="427.6" stroke="#333" stroke-width="0.9"/>
<line x1="682.0" y1="616.5" x2="682.0" y2="618.7" stroke="#333" stroke-width="0.9"/>
<line x1="480.2" y1="413.5" x2="482.4" y2="413.5" stroke="#333" stroke-width="0.9"/>
<line x1="695.8" y1="616.5" x2="695.8" y2="618.7" stroke="#333" stroke-width="0.9"/>
<line x1="480.2" y1="399.4" x2="482.4" y2="399.4" stroke="#333" stroke-width="0.9"/>
<line x1="723.5" y1="616.5" x2="723.5" y2="618.7" stroke="#333" stroke-width="0.9"/>
<line x1="480.2" y1="371.2" x2="482.4" y2="371.2" stroke="#333" stroke-width="0.9"/>
<line x1="737.4" y1="616.5" x2="737.4" y2="618.7" stroke="#333" stroke-width="0.9"/>
<line x1="480.2" y1="357.1" x2="482.4" y2="357.1" stroke="#333" stroke-width="0.9"/>
<line x1="751.3" y1="616.5" x2="751.3" y2="618.7" stroke="#333" stroke-width="0.9"/>
<line x1="480.2" y1="343.0" x2="482.4" y2="343.0" stroke="#333" stroke-width="0.9"/>
<line x1="779.0" y1="616.5" x2="779.0" y2="618.7" stroke="#333" stroke-width="0.9"/>
<line x1="480.2" y1="314.8" x2="482.4" y2="314.8" stroke="#333" stroke-width="0.9"/>
<line x1="792.8" y1="616.5" x2="792.8" y2="618.7" stroke="#333" stroke-width="0.9"/>
<line x1="480.2" y1="300.7" x2="482.4" y2="300.7" stroke="#333" stroke-width="0.9"/>
<line x1="806.7" y1="616.5" x2="806.7" y2="618.7" stroke="#333" stroke-width="0.9"/>
<line x1="480.2" y1="286.6" x2="482.4" y2="286.6" stroke="#333" stroke-width="0.9"/>
<text x="651.5" y="657.8" font-family="DejaVu Sans, sans-serif" font-size="17.2" fill="#111" text-anchor="middle">PBE Defect Level (eV)</text>
<text font-family="DejaVu Sans, sans-serif" font-size="17.4" fill="#111" text-anchor="middle" transform="translate(441.7,444.8) rotate(-90)">HSE+SOC Defect Level (eV)</text>
<rect x="490.7" y="280.8" width="145.3" height="108.5" rx="4" fill="#fff" fill-opacity="0.8" stroke="#d5d5d5" stroke-width="1"/>
<circle cx="515" cy="296.6" r="7.8" fill="#ff0000" stroke="#111" stroke-width="1.15"/>
<text x="545.8" y="302.6" font-family="DejaVu Sans, sans-serif" font-size="17.4" fill="#111"><tspan font-style="italic">ε</tspan> (+2/+1)</text>
<circle cx="515" cy="322.2" r="7.8" fill="#0000ff" stroke="#111" stroke-width="1.15"/>
<text x="545.8" y="328.2" font-family="DejaVu Sans, sans-serif" font-size="17.4" fill="#111"><tspan font-style="italic">ε</tspan> (+1/0)</text>
<circle cx="515" cy="347.8" r="7.8" fill="#008000" stroke="#111" stroke-width="1.15"/>
<text x="545.8" y="353.8" font-family="DejaVu Sans, sans-serif" font-size="17.4" fill="#111"><tspan font-style="italic">ε</tspan> (0/-1)</text>
<circle cx="515" cy="373.4" r="7.8" fill="#800080" stroke="#111" stroke-width="1.15"/>
<text x="545.8" y="379.4" font-family="DejaVu Sans, sans-serif" font-size="17.4" fill="#111"><tspan font-style="italic">ε</tspan> (-1/-2)</text>
<text x="775" y="594" font-family="Liberation Sans, sans-serif" font-size="37.5" fill="#444" stroke="#444" stroke-width="0.35" textLength="36" lengthAdjust="spacingAndGlyphs" >(c)</text>
<text x="53" y="239.3" font-family="Liberation Sans, sans-serif" font-size="15" fill="#333" textLength="351" lengthAdjust="spacingAndGlyphs">E<tspan font-size="10" dy="-5">f</tspan><tspan dy="5">(q) = E(D</tspan><tspan font-size="10" dy="-5">q</tspan><tspan dy="5">) – E(bulk) + ∑n</tspan><tspan font-size="10" dy="3">i</tspan><tspan dy="-3">μ</tspan><tspan font-size="10" dy="3">i</tspan><tspan dy="-3"> + q(E</tspan><tspan font-size="10" dy="3">F</tspan><tspan dy="-3">+E</tspan><tspan font-size="10" dy="3">vbm</tspan><tspan dy="-3">) + E</tspan><tspan font-size="10" dy="3">corr</tspan></text>
<text x="467.2" y="239.8" font-family="Liberation Sans, sans-serif" font-size="15" fill="#333" textLength="342.5" lengthAdjust="spacingAndGlyphs">Defect Levels: ε(q<tspan font-size="10" dy="3">1</tspan><tspan dy="-3">/q</tspan><tspan font-size="10" dy="3">2</tspan><tspan dy="-3">) = [ E</tspan><tspan font-size="10" dy="-5">f</tspan><tspan dy="5">(q</tspan><tspan font-size="10" dy="3">1</tspan><tspan dy="-3">) - E</tspan><tspan font-size="10" dy="-5">f</tspan><tspan dy="5">(q</tspan><tspan font-size="10" dy="3">2</tspan><tspan dy="-3">) ] / (q</tspan><tspan font-size="10" dy="3">2</tspan><tspan dy="-3">-q</tspan><tspan font-size="10" dy="3">1</tspan><tspan dy="-3">)</tspan></text>
</svg>
</body></html>
